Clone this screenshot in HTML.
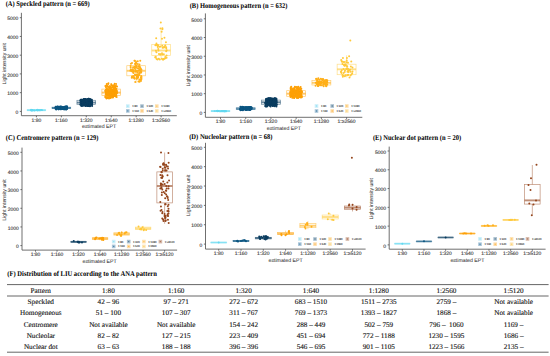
<!DOCTYPE html>
<html><head><meta charset="utf-8"><style>
html,body{margin:0;padding:0;background:#fff;width:550px;height:356px;overflow:hidden}
svg{display:block;text-rendering:geometricPrecision}
.ttl{font-family:"Liberation Serif",serif;font-weight:bold;font-size:7.4px;fill:#000}
.ft{font-family:"Liberation Serif",serif;font-weight:bold;font-size:7.4px;fill:#000}
.tb{font-family:"Liberation Serif",serif;font-size:7.2px;fill:#111;stroke:#111;stroke-width:0.12px}
.tk{font-family:"Liberation Sans",sans-serif;font-size:5.0px;fill:#333;stroke:#333;stroke-width:0.1px}
.axt{font-family:"Liberation Sans",sans-serif;font-size:5.2px;fill:#333;stroke:#333;stroke-width:0.04px}
.lg{font-family:"Liberation Sans",sans-serif;font-size:2.7px;fill:#333;stroke:#333;stroke-width:0.08px}
.ax{stroke:#555;stroke-width:0.85}
</style></head><body>
<svg width="550" height="356" viewBox="0 0 550 356">
<rect width="550" height="356" fill="#fff"/>
<text x="5.7" y="6.2" class="ttl" textLength="84.1" lengthAdjust="spacingAndGlyphs">(A) Speckled pattern (n = 669)</text>
<text class="axt" transform="translate(5.6,63.7) rotate(-90)" text-anchor="middle">Light intensity unit</text>
<line x1="19.8" y1="111.4" x2="21.4" y2="111.4" class="ax"/>
<text x="18.3" y="114.1" class="tk" text-anchor="end">0</text>
<line x1="19.8" y1="92.66" x2="21.4" y2="92.66" class="ax"/>
<text x="18.3" y="95.36" class="tk" text-anchor="end">1000</text>
<line x1="19.8" y1="73.92" x2="21.4" y2="73.92" class="ax"/>
<text x="18.3" y="76.62" class="tk" text-anchor="end">2000</text>
<line x1="19.8" y1="55.18" x2="21.4" y2="55.18" class="ax"/>
<text x="18.3" y="57.88" class="tk" text-anchor="end">3000</text>
<line x1="19.8" y1="36.44" x2="21.4" y2="36.44" class="ax"/>
<text x="18.3" y="39.14" class="tk" text-anchor="end">4000</text>
<line x1="19.8" y1="17.7" x2="21.4" y2="17.7" class="ax"/>
<text x="18.3" y="20.4" class="tk" text-anchor="end">5000</text>
<line x1="36.4" y1="115.7" x2="36.4" y2="117.3" class="ax"/>
<text x="36.4" y="121.7" class="tk" text-anchor="middle">1:80</text>
<line x1="61.34" y1="115.7" x2="61.34" y2="117.3" class="ax"/>
<text x="61.34" y="121.7" class="tk" text-anchor="middle">1:160</text>
<line x1="86.28" y1="115.7" x2="86.28" y2="117.3" class="ax"/>
<text x="86.28" y="121.7" class="tk" text-anchor="middle">1:320</text>
<line x1="111.22" y1="115.7" x2="111.22" y2="117.3" class="ax"/>
<text x="111.22" y="121.7" class="tk" text-anchor="middle">1:640</text>
<line x1="136.16" y1="115.7" x2="136.16" y2="117.3" class="ax"/>
<text x="136.16" y="121.7" class="tk" text-anchor="middle">1:1280</text>
<line x1="161.1" y1="115.7" x2="161.1" y2="117.3" class="ax"/>
<text x="161.1" y="121.7" class="tk" text-anchor="middle">1:≥2560</text>
<text x="99.1" y="128.2" class="axt" text-anchor="middle">estimated EPT</text>
<g stroke="#62d8f0" stroke-width="0.7" fill="none" stroke-opacity="0.6">
<line x1="36.4" y1="109.6" x2="36.4" y2="109.9"/>
<line x1="36.4" y1="110.37" x2="36.4" y2="110.61"/>
<rect x="27.05" y="109.9" width="18.71" height="0.47"/>
<line x1="27.05" y1="110.18" x2="45.75" y2="110.18" stroke-width="1.9"/>
</g>
<g fill="#62d8f0">
<circle cx="38.17" cy="110.27" r="0.85"/>
<circle cx="31.39" cy="110" r="0.85"/>
<circle cx="31.22" cy="110.5" r="0.85"/>
<circle cx="36.49" cy="110.26" r="0.85"/>
<circle cx="31.36" cy="109.82" r="0.85"/>
<circle cx="31.6" cy="110.1" r="0.85"/>
<circle cx="31.99" cy="109.89" r="0.85"/>
<circle cx="41.65" cy="110.1" r="0.85"/>
<circle cx="37.3" cy="109.7" r="0.85"/>
<circle cx="31.09" cy="109.61" r="0.85"/>
<circle cx="32.23" cy="110" r="0.85"/>
<circle cx="31.92" cy="110.4" r="0.85"/>
<circle cx="32.66" cy="110.41" r="0.85"/>
<circle cx="34.9" cy="110.42" r="0.85"/>
<circle cx="31.24" cy="110.3" r="0.85"/>
<circle cx="32.95" cy="110.22" r="0.85"/>
<circle cx="34.22" cy="110.34" r="0.85"/>
<circle cx="37.4" cy="110.51" r="0.85"/>
<circle cx="39.85" cy="110.46" r="0.85"/>
<circle cx="38.73" cy="110.1" r="0.85"/>
<circle cx="36.7" cy="110.17" r="0.85"/>
<circle cx="40.8" cy="109.73" r="0.85"/>
<circle cx="42.03" cy="110.22" r="0.85"/>
<circle cx="31.92" cy="110.47" r="0.85"/>
<circle cx="32.32" cy="109.89" r="0.85"/>
<circle cx="38.37" cy="110.28" r="0.85"/>
<circle cx="39.5" cy="110.18" r="0.85"/>
<circle cx="34.22" cy="110.5" r="0.85"/>
<circle cx="37.34" cy="110.34" r="0.85"/>
<circle cx="41.61" cy="110" r="0.85"/>
</g>
<g stroke="#0b5580" stroke-width="0.7" fill="none" stroke-opacity="0.6">
<line x1="61.34" y1="106.32" x2="61.34" y2="107.18"/>
<line x1="61.34" y1="108.59" x2="61.34" y2="109.58"/>
<rect x="51.99" y="107.18" width="18.71" height="1.41"/>
<line x1="51.99" y1="107.93" x2="70.69" y2="107.93" stroke-width="1.9"/>
</g>
<g fill="#0b5580">
<circle cx="56.19" cy="109.45" r="1.0"/>
<circle cx="63.7" cy="107.68" r="1.0"/>
<circle cx="60" cy="107.56" r="1.0"/>
<circle cx="63.32" cy="108.7" r="1.0"/>
<circle cx="57.45" cy="106.79" r="1.0"/>
<circle cx="56.85" cy="107.77" r="1.0"/>
<circle cx="57" cy="107.29" r="1.0"/>
<circle cx="65.69" cy="107.92" r="1.0"/>
<circle cx="56.42" cy="106.9" r="1.0"/>
<circle cx="65.83" cy="109.18" r="1.0"/>
<circle cx="65.08" cy="107.52" r="1.0"/>
<circle cx="60.35" cy="107.38" r="1.0"/>
<circle cx="59.68" cy="108.57" r="1.0"/>
<circle cx="58.2" cy="107.56" r="1.0"/>
<circle cx="58.21" cy="107.41" r="1.0"/>
<circle cx="58.56" cy="109.32" r="1.0"/>
<circle cx="55.53" cy="107.8" r="1.0"/>
<circle cx="62.12" cy="108.81" r="1.0"/>
<circle cx="66.65" cy="107.45" r="1.0"/>
<circle cx="62.72" cy="108.39" r="1.0"/>
<circle cx="63.41" cy="109.1" r="1.0"/>
<circle cx="64.62" cy="107.19" r="1.0"/>
<circle cx="60.08" cy="106.62" r="1.0"/>
<circle cx="60.16" cy="109.25" r="1.0"/>
<circle cx="56.21" cy="106.76" r="1.0"/>
<circle cx="56.27" cy="107.04" r="1.0"/>
<circle cx="59.47" cy="107.77" r="1.0"/>
<circle cx="56.1" cy="107.33" r="1.0"/>
<circle cx="56.67" cy="107.34" r="1.0"/>
<circle cx="59.74" cy="107.93" r="1.0"/>
<circle cx="62.68" cy="107.59" r="1.0"/>
<circle cx="59.55" cy="107.46" r="1.0"/>
<circle cx="59.75" cy="107.3" r="1.0"/>
<circle cx="67.12" cy="106.48" r="1.0"/>
<circle cx="60.94" cy="106.52" r="1.0"/>
<circle cx="56.68" cy="108.37" r="1.0"/>
<circle cx="59.5" cy="107.89" r="1.0"/>
<circle cx="57.37" cy="108.11" r="1.0"/>
<circle cx="61.67" cy="107.56" r="1.0"/>
<circle cx="55.8" cy="107.14" r="1.0"/>
<circle cx="61.67" cy="106.9" r="1.0"/>
<circle cx="63.64" cy="108.21" r="1.0"/>
<circle cx="57.44" cy="108" r="1.0"/>
<circle cx="64.53" cy="106.94" r="1.0"/>
<circle cx="59.34" cy="108.3" r="1.0"/>
<circle cx="67.02" cy="107.61" r="1.0"/>
<circle cx="65.07" cy="106.8" r="1.0"/>
<circle cx="64.15" cy="109.44" r="1.0"/>
<circle cx="59.65" cy="107.75" r="1.0"/>
<circle cx="55.82" cy="106.69" r="1.0"/>
<circle cx="58.52" cy="107.1" r="1.0"/>
<circle cx="63.6" cy="107.79" r="1.0"/>
<circle cx="66.46" cy="106.84" r="1.0"/>
<circle cx="67.06" cy="108.24" r="1.0"/>
<circle cx="58.06" cy="106.98" r="1.0"/>
<circle cx="58.14" cy="108.21" r="1.0"/>
<circle cx="62.79" cy="107.7" r="1.0"/>
<circle cx="66.03" cy="107.27" r="1.0"/>
<circle cx="63.13" cy="107.29" r="1.0"/>
<circle cx="64.85" cy="108.94" r="1.0"/>
<circle cx="66.14" cy="106.61" r="1.0"/>
<circle cx="64.65" cy="107.16" r="1.0"/>
<circle cx="57.57" cy="107.93" r="1.0"/>
<circle cx="64.73" cy="109.12" r="1.0"/>
<circle cx="66.87" cy="108.86" r="1.0"/>
<circle cx="66.58" cy="108.77" r="1.0"/>
<circle cx="63.98" cy="107.29" r="1.0"/>
<circle cx="57.25" cy="107.67" r="1.0"/>
<circle cx="66.09" cy="107.46" r="1.0"/>
<circle cx="65.17" cy="107.73" r="1.0"/>
<circle cx="66.97" cy="108.48" r="1.0"/>
<circle cx="61.91" cy="108.47" r="1.0"/>
<circle cx="57.01" cy="108.74" r="1.0"/>
<circle cx="63.09" cy="107.69" r="1.0"/>
<circle cx="60.56" cy="108.34" r="1.0"/>
<circle cx="57.95" cy="106.58" r="1.0"/>
<circle cx="58.43" cy="109.34" r="1.0"/>
<circle cx="62.35" cy="108.14" r="1.0"/>
<circle cx="58.52" cy="107.19" r="1.0"/>
<circle cx="66.15" cy="108.42" r="1.0"/>
<circle cx="59.63" cy="107.66" r="1.0"/>
<circle cx="66.08" cy="109.26" r="1.0"/>
<circle cx="60.41" cy="107.58" r="1.0"/>
<circle cx="61.71" cy="106.86" r="1.0"/>
<circle cx="61.62" cy="108.54" r="1.0"/>
<circle cx="57.63" cy="106.82" r="1.0"/>
<circle cx="55.53" cy="107.8" r="1.0"/>
<circle cx="61.03" cy="107.74" r="1.0"/>
<circle cx="63.98" cy="108.54" r="1.0"/>
<circle cx="61.56" cy="108.8" r="1.0"/>
<circle cx="61.99" cy="108.25" r="1.0"/>
<circle cx="62.05" cy="107.83" r="1.0"/>
<circle cx="58.39" cy="108.41" r="1.0"/>
<circle cx="61.43" cy="108.23" r="1.0"/>
<circle cx="66.18" cy="109.56" r="1.0"/>
<circle cx="60.67" cy="108.6" r="1.0"/>
<circle cx="61.48" cy="108.87" r="1.0"/>
<circle cx="63.6" cy="108.74" r="1.0"/>
<circle cx="61.08" cy="109.16" r="1.0"/>
<circle cx="66.52" cy="107.55" r="1.0"/>
<circle cx="66.52" cy="108.6" r="1.0"/>
<circle cx="66.54" cy="108.01" r="1.0"/>
<circle cx="65.33" cy="106.6" r="1.0"/>
<circle cx="60.66" cy="107.59" r="1.0"/>
<circle cx="56.33" cy="107.53" r="1.0"/>
<circle cx="63.33" cy="107.91" r="1.0"/>
<circle cx="64.67" cy="107.53" r="1.0"/>
<circle cx="63.87" cy="107.45" r="1.0"/>
<circle cx="63.22" cy="108.3" r="1.0"/>
<circle cx="66.82" cy="106.59" r="1.0"/>
<circle cx="60.15" cy="107.44" r="1.0"/>
<circle cx="65.24" cy="107.68" r="1.0"/>
<circle cx="61.52" cy="107.35" r="1.0"/>
<circle cx="59.45" cy="106.99" r="1.0"/>
<circle cx="63.94" cy="107.63" r="1.0"/>
<circle cx="55.71" cy="107.07" r="1.0"/>
<circle cx="55.69" cy="108.99" r="1.0"/>
<circle cx="59.36" cy="108.31" r="1.0"/>
<circle cx="56.23" cy="108.82" r="1.0"/>
<circle cx="67.03" cy="108.81" r="1.0"/>
<circle cx="56.71" cy="107.27" r="1.0"/>
<circle cx="64.61" cy="107.96" r="1.0"/>
<circle cx="58.65" cy="107.64" r="1.0"/>
<circle cx="66.16" cy="107.18" r="1.0"/>
<circle cx="65.08" cy="107.14" r="1.0"/>
<circle cx="66.25" cy="107.97" r="1.0"/>
<circle cx="62.17" cy="107.34" r="1.0"/>
<circle cx="56.15" cy="108.07" r="1.0"/>
<circle cx="63.55" cy="108.36" r="1.0"/>
<circle cx="66.48" cy="108.29" r="1.0"/>
<circle cx="62.92" cy="107.75" r="1.0"/>
<circle cx="65.52" cy="107.79" r="1.0"/>
<circle cx="56.26" cy="108.35" r="1.0"/>
<circle cx="59.45" cy="107.19" r="1.0"/>
<circle cx="61.96" cy="108.8" r="1.0"/>
<circle cx="56.99" cy="107.2" r="1.0"/>
<circle cx="61.66" cy="108.3" r="1.0"/>
<circle cx="57.37" cy="107.9" r="1.0"/>
<circle cx="56.07" cy="107.43" r="1.0"/>
<circle cx="59.05" cy="107.66" r="1.0"/>
</g>
<g stroke="#0a3c5f" stroke-width="0.7" fill="none" stroke-opacity="0.6">
<line x1="86.28" y1="98.81" x2="86.28" y2="100.31"/>
<line x1="86.28" y1="104.6" x2="86.28" y2="106.3"/>
<rect x="76.93" y="100.31" width="18.71" height="4.29"/>
<line x1="76.93" y1="102.59" x2="95.63" y2="102.59" stroke-width="1.9"/>
</g>
<g fill="#0a3c5f">
<circle cx="89.32" cy="99.97" r="1.0"/>
<circle cx="82.5" cy="103.52" r="1.0"/>
<circle cx="84.49" cy="98.97" r="1.0"/>
<circle cx="80.6" cy="100.19" r="1.0"/>
<circle cx="89.01" cy="102.32" r="1.0"/>
<circle cx="85.98" cy="104.55" r="1.0"/>
<circle cx="91.37" cy="103.24" r="1.0"/>
<circle cx="85.48" cy="98.95" r="1.0"/>
<circle cx="85.03" cy="102.4" r="1.0"/>
<circle cx="91.94" cy="102.8" r="1.0"/>
<circle cx="88.7" cy="105.9" r="1.0"/>
<circle cx="84.49" cy="104.72" r="1.0"/>
<circle cx="81.06" cy="105.03" r="1.0"/>
<circle cx="89.1" cy="101.76" r="1.0"/>
<circle cx="83.42" cy="101.71" r="1.0"/>
<circle cx="90.28" cy="101.9" r="1.0"/>
<circle cx="90.62" cy="101.45" r="1.0"/>
<circle cx="83.26" cy="103.83" r="1.0"/>
<circle cx="83.85" cy="104.86" r="1.0"/>
<circle cx="85.64" cy="104.39" r="1.0"/>
<circle cx="83.5" cy="102.12" r="1.0"/>
<circle cx="86.83" cy="104.62" r="1.0"/>
<circle cx="84.05" cy="102.3" r="1.0"/>
<circle cx="84.89" cy="102.68" r="1.0"/>
<circle cx="85.98" cy="102.48" r="1.0"/>
<circle cx="86.34" cy="104.72" r="1.0"/>
<circle cx="80.48" cy="102.63" r="1.0"/>
<circle cx="85.1" cy="102.71" r="1.0"/>
<circle cx="80.91" cy="101.22" r="1.0"/>
<circle cx="83.15" cy="99.91" r="1.0"/>
<circle cx="87.28" cy="102.21" r="1.0"/>
<circle cx="88.13" cy="103.56" r="1.0"/>
<circle cx="84.98" cy="103.98" r="1.0"/>
<circle cx="87.96" cy="99.58" r="1.0"/>
<circle cx="90.87" cy="100.95" r="1.0"/>
<circle cx="89.94" cy="106.2" r="1.0"/>
<circle cx="86.33" cy="100.11" r="1.0"/>
<circle cx="90.21" cy="99.62" r="1.0"/>
<circle cx="87.27" cy="100.59" r="1.0"/>
<circle cx="88.55" cy="98.83" r="1.0"/>
<circle cx="83.11" cy="105.6" r="1.0"/>
<circle cx="84.65" cy="100.93" r="1.0"/>
<circle cx="81.65" cy="102.26" r="1.0"/>
<circle cx="87.78" cy="100.5" r="1.0"/>
<circle cx="87.76" cy="106.08" r="1.0"/>
<circle cx="80.46" cy="104.15" r="1.0"/>
<circle cx="89.77" cy="105.93" r="1.0"/>
<circle cx="86.69" cy="102.63" r="1.0"/>
<circle cx="89.06" cy="103.23" r="1.0"/>
<circle cx="83.38" cy="103.58" r="1.0"/>
<circle cx="88.97" cy="100.36" r="1.0"/>
<circle cx="82.82" cy="101.47" r="1.0"/>
<circle cx="86.21" cy="103.15" r="1.0"/>
<circle cx="88.43" cy="105.28" r="1.0"/>
<circle cx="89.41" cy="100.15" r="1.0"/>
<circle cx="81.33" cy="105.98" r="1.0"/>
<circle cx="82.15" cy="105.65" r="1.0"/>
<circle cx="83.99" cy="102.72" r="1.0"/>
<circle cx="81.13" cy="103.05" r="1.0"/>
<circle cx="83.57" cy="102.8" r="1.0"/>
<circle cx="88.34" cy="104.89" r="1.0"/>
<circle cx="85.87" cy="103.57" r="1.0"/>
<circle cx="85.89" cy="98.89" r="1.0"/>
<circle cx="91.39" cy="99.84" r="1.0"/>
<circle cx="90.03" cy="99.09" r="1.0"/>
<circle cx="91.77" cy="102.21" r="1.0"/>
<circle cx="82.88" cy="104.98" r="1.0"/>
<circle cx="91.5" cy="101.81" r="1.0"/>
<circle cx="82.08" cy="101.57" r="1.0"/>
<circle cx="81.97" cy="103.78" r="1.0"/>
<circle cx="90.81" cy="100.97" r="1.0"/>
<circle cx="88.66" cy="106.02" r="1.0"/>
<circle cx="86.12" cy="101.8" r="1.0"/>
<circle cx="86.18" cy="102.33" r="1.0"/>
<circle cx="85.7" cy="102.55" r="1.0"/>
<circle cx="84.45" cy="103.15" r="1.0"/>
<circle cx="84.12" cy="100.93" r="1.0"/>
<circle cx="89.22" cy="102.49" r="1.0"/>
<circle cx="90.25" cy="102.75" r="1.0"/>
<circle cx="83.82" cy="104.17" r="1.0"/>
<circle cx="92.13" cy="104.8" r="1.0"/>
<circle cx="87.33" cy="100.31" r="1.0"/>
<circle cx="83.64" cy="104.75" r="1.0"/>
<circle cx="80.98" cy="100.01" r="1.0"/>
<circle cx="83.77" cy="98.99" r="1.0"/>
<circle cx="83.53" cy="100.38" r="1.0"/>
<circle cx="86.41" cy="103.54" r="1.0"/>
<circle cx="91.63" cy="101.46" r="1.0"/>
<circle cx="90.78" cy="99.74" r="1.0"/>
<circle cx="91.13" cy="100.89" r="1.0"/>
<circle cx="88.85" cy="98.85" r="1.0"/>
<circle cx="81" cy="104.05" r="1.0"/>
<circle cx="89.24" cy="102.98" r="1.0"/>
<circle cx="87.97" cy="106.05" r="1.0"/>
<circle cx="91.28" cy="102.82" r="1.0"/>
<circle cx="81.91" cy="101.61" r="1.0"/>
<circle cx="83.91" cy="105.46" r="1.0"/>
<circle cx="89.08" cy="102.08" r="1.0"/>
<circle cx="88.11" cy="100.15" r="1.0"/>
<circle cx="83.95" cy="102.96" r="1.0"/>
<circle cx="82.38" cy="105.57" r="1.0"/>
<circle cx="82.31" cy="103.71" r="1.0"/>
<circle cx="86.25" cy="100.78" r="1.0"/>
<circle cx="92.1" cy="101.3" r="1.0"/>
<circle cx="82.67" cy="104.25" r="1.0"/>
<circle cx="81.48" cy="102.05" r="1.0"/>
<circle cx="83.22" cy="103.35" r="1.0"/>
<circle cx="83.45" cy="101.43" r="1.0"/>
<circle cx="89.21" cy="105.41" r="1.0"/>
<circle cx="86.56" cy="105.4" r="1.0"/>
<circle cx="84.84" cy="100.88" r="1.0"/>
<circle cx="83.67" cy="103.19" r="1.0"/>
<circle cx="91.76" cy="101.62" r="1.0"/>
<circle cx="87.8" cy="99.95" r="1.0"/>
<circle cx="90.53" cy="99.92" r="1.0"/>
<circle cx="83.33" cy="102.06" r="1.0"/>
<circle cx="85.1" cy="100.12" r="1.0"/>
<circle cx="90.37" cy="99.96" r="1.0"/>
<circle cx="80.8" cy="102.13" r="1.0"/>
<circle cx="88.74" cy="103.07" r="1.0"/>
<circle cx="87.3" cy="99.74" r="1.0"/>
<circle cx="80.42" cy="104.79" r="1.0"/>
<circle cx="91.82" cy="99.73" r="1.0"/>
<circle cx="82.23" cy="102.58" r="1.0"/>
<circle cx="86.54" cy="101.06" r="1.0"/>
<circle cx="88.88" cy="105.73" r="1.0"/>
<circle cx="85.78" cy="105.84" r="1.0"/>
<circle cx="89.59" cy="103.45" r="1.0"/>
<circle cx="83.15" cy="102.88" r="1.0"/>
<circle cx="83.98" cy="104.8" r="1.0"/>
<circle cx="87.88" cy="100.91" r="1.0"/>
<circle cx="88.61" cy="100.85" r="1.0"/>
<circle cx="86.57" cy="101.67" r="1.0"/>
<circle cx="87.25" cy="101.81" r="1.0"/>
<circle cx="87.46" cy="104.32" r="1.0"/>
<circle cx="80.54" cy="101.13" r="1.0"/>
<circle cx="91.66" cy="103.72" r="1.0"/>
<circle cx="87.97" cy="99.24" r="1.0"/>
<circle cx="83.17" cy="99.9" r="1.0"/>
<circle cx="83.32" cy="105" r="1.0"/>
<circle cx="84.02" cy="103.81" r="1.0"/>
<circle cx="88.33" cy="98.89" r="1.0"/>
<circle cx="85.34" cy="102.08" r="1.0"/>
<circle cx="91.26" cy="102.81" r="1.0"/>
<circle cx="84.38" cy="102.47" r="1.0"/>
<circle cx="85.35" cy="101.76" r="1.0"/>
<circle cx="89.76" cy="103.46" r="1.0"/>
<circle cx="89.08" cy="104.52" r="1.0"/>
<circle cx="91.79" cy="104.75" r="1.0"/>
<circle cx="84.07" cy="102.66" r="1.0"/>
<circle cx="83.01" cy="101.61" r="1.0"/>
<circle cx="89.33" cy="104.68" r="1.0"/>
<circle cx="86.23" cy="104.77" r="1.0"/>
<circle cx="85.31" cy="101.72" r="1.0"/>
<circle cx="88.22" cy="100.51" r="1.0"/>
<circle cx="85.03" cy="100.9" r="1.0"/>
<circle cx="82.92" cy="103.16" r="1.0"/>
<circle cx="81.03" cy="100.86" r="1.0"/>
<circle cx="81.12" cy="102.88" r="1.0"/>
<circle cx="92.11" cy="106.04" r="1.0"/>
<circle cx="82.59" cy="100.01" r="1.0"/>
<circle cx="91.39" cy="103.78" r="1.0"/>
<circle cx="88.21" cy="102.61" r="1.0"/>
<circle cx="84.86" cy="103.4" r="1.0"/>
<circle cx="82.4" cy="104.6" r="1.0"/>
<circle cx="80.45" cy="100.56" r="1.0"/>
<circle cx="91.62" cy="103.14" r="1.0"/>
<circle cx="81.87" cy="99.69" r="1.0"/>
<circle cx="84.6" cy="100.48" r="1.0"/>
<circle cx="90.05" cy="103.07" r="1.0"/>
<circle cx="81" cy="101.11" r="1.0"/>
<circle cx="85.97" cy="105.64" r="1.0"/>
<circle cx="90.93" cy="101.53" r="1.0"/>
<circle cx="80.77" cy="99.76" r="1.0"/>
<circle cx="89.41" cy="99.5" r="1.0"/>
<circle cx="81.15" cy="101.77" r="1.0"/>
<circle cx="91.2" cy="102.38" r="1.0"/>
<circle cx="90.95" cy="102.82" r="1.0"/>
<circle cx="91.64" cy="103.94" r="1.0"/>
<circle cx="87.65" cy="100.44" r="1.0"/>
<circle cx="84.13" cy="102.98" r="1.0"/>
<circle cx="89.28" cy="102.64" r="1.0"/>
<circle cx="91.16" cy="102.32" r="1.0"/>
<circle cx="85.99" cy="100.3" r="1.0"/>
<circle cx="91.63" cy="102.24" r="1.0"/>
<circle cx="83.36" cy="99.58" r="1.0"/>
<circle cx="85.46" cy="103.49" r="1.0"/>
<circle cx="82.56" cy="102.29" r="1.0"/>
<circle cx="90.06" cy="100.9" r="1.0"/>
<circle cx="84.26" cy="101.97" r="1.0"/>
<circle cx="89.59" cy="103.87" r="1.0"/>
<circle cx="81.35" cy="99.86" r="1.0"/>
<circle cx="83.32" cy="100.86" r="1.0"/>
<circle cx="86.9" cy="101.83" r="1.0"/>
<circle cx="84.24" cy="102.26" r="1.0"/>
<circle cx="92" cy="103.41" r="1.0"/>
<circle cx="81.55" cy="102.72" r="1.0"/>
<circle cx="86.26" cy="101.27" r="1.0"/>
<circle cx="83.16" cy="103.46" r="1.0"/>
<circle cx="85.31" cy="105.94" r="1.0"/>
<circle cx="89.19" cy="106.06" r="1.0"/>
<circle cx="90.35" cy="105.86" r="1.0"/>
<circle cx="90.28" cy="103.42" r="1.0"/>
<circle cx="83.86" cy="103.98" r="1.0"/>
<circle cx="89.07" cy="105.4" r="1.0"/>
<circle cx="82.75" cy="103.85" r="1.0"/>
<circle cx="82.22" cy="102.55" r="1.0"/>
<circle cx="90.78" cy="100.21" r="1.0"/>
<circle cx="85.06" cy="105.08" r="1.0"/>
<circle cx="92.05" cy="103.93" r="1.0"/>
<circle cx="89.9" cy="104.9" r="1.0"/>
<circle cx="88.08" cy="102.7" r="1.0"/>
<circle cx="85.98" cy="101.12" r="1.0"/>
<circle cx="90.02" cy="102.68" r="1.0"/>
<circle cx="81.82" cy="100.03" r="1.0"/>
<circle cx="82.64" cy="101.93" r="1.0"/>
<circle cx="91.32" cy="103.3" r="1.0"/>
<circle cx="89.54" cy="104.93" r="1.0"/>
<circle cx="91.5" cy="101.82" r="1.0"/>
<circle cx="87.69" cy="99.22" r="1.0"/>
<circle cx="82.97" cy="99.95" r="1.0"/>
<circle cx="82.81" cy="103.78" r="1.0"/>
<circle cx="83.41" cy="101.3" r="1.0"/>
<circle cx="82.8" cy="105.29" r="1.0"/>
<circle cx="88.37" cy="99.77" r="1.0"/>
<circle cx="82.59" cy="102.39" r="1.0"/>
<circle cx="89.74" cy="103.41" r="1.0"/>
<circle cx="86.84" cy="100.61" r="1.0"/>
<circle cx="85.05" cy="101.24" r="1.0"/>
<circle cx="86.87" cy="102.02" r="1.0"/>
</g>
<g stroke="#fda006" stroke-width="0.7" fill="none" stroke-opacity="0.6">
<line x1="111.22" y1="83.1" x2="111.22" y2="89.1"/>
<line x1="111.22" y1="95.4" x2="111.22" y2="98.6"/>
<rect x="101.87" y="89.1" width="18.71" height="6.3"/>
<line x1="101.87" y1="92.6" x2="120.57" y2="92.6" stroke-width="1.9"/>
</g>
<g fill="#fda006">
<circle cx="107.28" cy="93.91" r="1.0"/>
<circle cx="113.51" cy="94.17" r="1.0"/>
<circle cx="108.96" cy="95.82" r="1.0"/>
<circle cx="116.53" cy="90.56" r="1.0"/>
<circle cx="109.55" cy="94.91" r="1.0"/>
<circle cx="110.24" cy="87.03" r="1.0"/>
<circle cx="113.89" cy="94.63" r="1.0"/>
<circle cx="107.75" cy="90.27" r="1.0"/>
<circle cx="110.33" cy="92.23" r="1.0"/>
<circle cx="115.71" cy="90.57" r="1.0"/>
<circle cx="110.76" cy="96.91" r="1.0"/>
<circle cx="111.82" cy="92.18" r="1.0"/>
<circle cx="112.87" cy="91.92" r="1.0"/>
<circle cx="112.65" cy="90.9" r="1.0"/>
<circle cx="109.71" cy="93.69" r="1.0"/>
<circle cx="108.68" cy="95.22" r="1.0"/>
<circle cx="111.47" cy="92.68" r="1.0"/>
<circle cx="111.11" cy="90.61" r="1.0"/>
<circle cx="114.79" cy="93.61" r="1.0"/>
<circle cx="106.84" cy="89.58" r="1.0"/>
<circle cx="116.41" cy="93.24" r="1.0"/>
<circle cx="105.98" cy="87.31" r="1.0"/>
<circle cx="116.22" cy="93.42" r="1.0"/>
<circle cx="112.63" cy="86.06" r="1.0"/>
<circle cx="114.57" cy="91.36" r="1.0"/>
<circle cx="107.96" cy="95.06" r="1.0"/>
<circle cx="115.08" cy="87.51" r="1.0"/>
<circle cx="110.04" cy="91.27" r="1.0"/>
<circle cx="111.43" cy="89.62" r="1.0"/>
<circle cx="108.26" cy="94.38" r="1.0"/>
<circle cx="113.86" cy="91.01" r="1.0"/>
<circle cx="111.95" cy="91.52" r="1.0"/>
<circle cx="114.24" cy="93.42" r="1.0"/>
<circle cx="106.74" cy="83.96" r="1.0"/>
<circle cx="112.39" cy="90.49" r="1.0"/>
<circle cx="108.95" cy="94.63" r="1.0"/>
<circle cx="110.35" cy="98.01" r="1.0"/>
<circle cx="113.08" cy="89.64" r="1.0"/>
<circle cx="105.63" cy="97.34" r="1.0"/>
<circle cx="112.61" cy="90.96" r="1.0"/>
<circle cx="114.31" cy="96.01" r="1.0"/>
<circle cx="114.5" cy="92.38" r="1.0"/>
<circle cx="110.91" cy="95.44" r="1.0"/>
<circle cx="106.61" cy="91.84" r="1.0"/>
<circle cx="106.43" cy="89.18" r="1.0"/>
<circle cx="110.54" cy="89.03" r="1.0"/>
<circle cx="112.82" cy="93.95" r="1.0"/>
<circle cx="106.32" cy="92.69" r="1.0"/>
<circle cx="111.35" cy="93.44" r="1.0"/>
<circle cx="109.79" cy="87.4" r="1.0"/>
<circle cx="116.5" cy="90.76" r="1.0"/>
<circle cx="117.04" cy="86.57" r="1.0"/>
<circle cx="113.94" cy="85.66" r="1.0"/>
<circle cx="116.87" cy="91.39" r="1.0"/>
<circle cx="111.12" cy="95.41" r="1.0"/>
<circle cx="107.29" cy="95.4" r="1.0"/>
<circle cx="106.13" cy="90.03" r="1.0"/>
<circle cx="107.22" cy="97.25" r="1.0"/>
<circle cx="115.87" cy="86.29" r="1.0"/>
<circle cx="107.04" cy="93.95" r="1.0"/>
<circle cx="111.25" cy="84.13" r="1.0"/>
<circle cx="108.44" cy="89.81" r="1.0"/>
<circle cx="111.29" cy="94.14" r="1.0"/>
<circle cx="107.49" cy="93.14" r="1.0"/>
<circle cx="107.25" cy="91.44" r="1.0"/>
<circle cx="115.85" cy="86.12" r="1.0"/>
<circle cx="107.34" cy="95.34" r="1.0"/>
<circle cx="111.58" cy="92.1" r="1.0"/>
<circle cx="112.82" cy="94.86" r="1.0"/>
<circle cx="111.87" cy="85.3" r="1.0"/>
<circle cx="106.59" cy="97.26" r="1.0"/>
<circle cx="109.98" cy="86.04" r="1.0"/>
<circle cx="114.71" cy="92.89" r="1.0"/>
<circle cx="112.13" cy="93.92" r="1.0"/>
<circle cx="110.54" cy="97.67" r="1.0"/>
<circle cx="107.43" cy="86.5" r="1.0"/>
<circle cx="114.97" cy="92.66" r="1.0"/>
<circle cx="108.33" cy="94.07" r="1.0"/>
<circle cx="109.02" cy="98.51" r="1.0"/>
<circle cx="105.38" cy="96.14" r="1.0"/>
<circle cx="112.58" cy="90.01" r="1.0"/>
<circle cx="110.43" cy="92.04" r="1.0"/>
<circle cx="106.91" cy="93.39" r="1.0"/>
<circle cx="105.62" cy="91.64" r="1.0"/>
<circle cx="105.39" cy="85.89" r="1.0"/>
<circle cx="109.55" cy="93.96" r="1.0"/>
<circle cx="107.99" cy="90.86" r="1.0"/>
<circle cx="107.75" cy="97.99" r="1.0"/>
<circle cx="112.67" cy="95.72" r="1.0"/>
<circle cx="116.34" cy="95.08" r="1.0"/>
<circle cx="108.21" cy="92.21" r="1.0"/>
<circle cx="112.84" cy="91.37" r="1.0"/>
<circle cx="115.57" cy="90.92" r="1.0"/>
<circle cx="108.46" cy="91.65" r="1.0"/>
<circle cx="105.49" cy="97.24" r="1.0"/>
<circle cx="109.47" cy="96.28" r="1.0"/>
<circle cx="112.93" cy="97.34" r="1.0"/>
<circle cx="113.96" cy="88.81" r="1.0"/>
<circle cx="105.87" cy="92.51" r="1.0"/>
<circle cx="108.15" cy="97.27" r="1.0"/>
<circle cx="106.04" cy="93.54" r="1.0"/>
<circle cx="111.82" cy="92.47" r="1.0"/>
<circle cx="116.39" cy="93.33" r="1.0"/>
<circle cx="112.49" cy="90.65" r="1.0"/>
<circle cx="111.3" cy="90.18" r="1.0"/>
<circle cx="107.41" cy="97.99" r="1.0"/>
<circle cx="105.93" cy="94.04" r="1.0"/>
<circle cx="115.78" cy="88.93" r="1.0"/>
<circle cx="105.43" cy="91.08" r="1.0"/>
<circle cx="110.81" cy="88.29" r="1.0"/>
<circle cx="108.01" cy="92.87" r="1.0"/>
<circle cx="106.59" cy="97.72" r="1.0"/>
<circle cx="109.29" cy="92.46" r="1.0"/>
<circle cx="114.15" cy="91.3" r="1.0"/>
<circle cx="113.7" cy="95.65" r="1.0"/>
<circle cx="110.47" cy="93.2" r="1.0"/>
<circle cx="114.6" cy="86.71" r="1.0"/>
<circle cx="112.88" cy="96.23" r="1.0"/>
<circle cx="116.67" cy="93.14" r="1.0"/>
<circle cx="105.54" cy="90.63" r="1.0"/>
<circle cx="108.41" cy="83.2" r="1.0"/>
<circle cx="116.43" cy="91.93" r="1.0"/>
<circle cx="114.11" cy="84.93" r="1.0"/>
<circle cx="109.21" cy="97.07" r="1.0"/>
<circle cx="108.16" cy="84.1" r="1.0"/>
<circle cx="113.48" cy="87.1" r="1.0"/>
<circle cx="113.16" cy="96.22" r="1.0"/>
<circle cx="115.2" cy="87.4" r="1.0"/>
<circle cx="113.54" cy="93.29" r="1.0"/>
<circle cx="113.85" cy="89.48" r="1.0"/>
<circle cx="112.04" cy="96.51" r="1.0"/>
<circle cx="112.66" cy="93.75" r="1.0"/>
<circle cx="106.27" cy="89.59" r="1.0"/>
<circle cx="105.67" cy="90.4" r="1.0"/>
<circle cx="106.61" cy="93.99" r="1.0"/>
<circle cx="107.02" cy="88.73" r="1.0"/>
<circle cx="105.7" cy="94.46" r="1.0"/>
<circle cx="112.79" cy="85.68" r="1.0"/>
<circle cx="113.53" cy="90.75" r="1.0"/>
<circle cx="112.28" cy="92.75" r="1.0"/>
<circle cx="109.62" cy="94.32" r="1.0"/>
<circle cx="115.81" cy="89.05" r="1.0"/>
<circle cx="116.08" cy="84.02" r="1.0"/>
<circle cx="116.43" cy="88.83" r="1.0"/>
<circle cx="106.67" cy="90.13" r="1.0"/>
<circle cx="105.76" cy="90.63" r="1.0"/>
<circle cx="112.79" cy="87.69" r="1.0"/>
<circle cx="108.73" cy="89.61" r="1.0"/>
<circle cx="106.53" cy="98.48" r="1.0"/>
<circle cx="107.76" cy="86.19" r="1.0"/>
<circle cx="109.1" cy="88.08" r="1.0"/>
<circle cx="108.37" cy="93.45" r="1.0"/>
<circle cx="108.67" cy="92.16" r="1.0"/>
<circle cx="109.12" cy="93.56" r="1.0"/>
<circle cx="116.66" cy="96.97" r="1.0"/>
<circle cx="112.61" cy="92.82" r="1.0"/>
<circle cx="110.48" cy="87.88" r="1.0"/>
<circle cx="114.42" cy="91.67" r="1.0"/>
<circle cx="111.66" cy="96.77" r="1.0"/>
<circle cx="107.9" cy="86.63" r="1.0"/>
<circle cx="114.97" cy="91.28" r="1.0"/>
<circle cx="107.36" cy="94.15" r="1.0"/>
<circle cx="114.29" cy="89.47" r="1.0"/>
<circle cx="116.82" cy="92.58" r="1.0"/>
<circle cx="111.12" cy="87.19" r="1.0"/>
<circle cx="114.7" cy="92.46" r="1.0"/>
<circle cx="109.43" cy="90.42" r="1.0"/>
<circle cx="115.11" cy="87.61" r="1.0"/>
<circle cx="108.68" cy="93.35" r="1.0"/>
<circle cx="111.2" cy="91.01" r="1.0"/>
<circle cx="106.65" cy="85.55" r="1.0"/>
<circle cx="114.59" cy="93.86" r="1.0"/>
<circle cx="113.53" cy="94.05" r="1.0"/>
<circle cx="109.53" cy="91.1" r="1.0"/>
<circle cx="115.8" cy="96.41" r="1.0"/>
<circle cx="106.37" cy="89.89" r="1.0"/>
<circle cx="107.78" cy="91.8" r="1.0"/>
<circle cx="108.44" cy="93.28" r="1.0"/>
<circle cx="109.81" cy="88.13" r="1.0"/>
<circle cx="115.72" cy="95.8" r="1.0"/>
<circle cx="111.59" cy="92.07" r="1.0"/>
<circle cx="114.2" cy="87.45" r="1.0"/>
<circle cx="109.44" cy="92.48" r="1.0"/>
<circle cx="115.24" cy="93.86" r="1.0"/>
<circle cx="113.12" cy="90.2" r="1.0"/>
<circle cx="110.5" cy="92.75" r="1.0"/>
<circle cx="114.43" cy="95.44" r="1.0"/>
<circle cx="110.77" cy="94.73" r="1.0"/>
<circle cx="115.73" cy="93.76" r="1.0"/>
<circle cx="108.89" cy="92.37" r="1.0"/>
<circle cx="113.6" cy="89.57" r="1.0"/>
<circle cx="107.19" cy="91.1" r="1.0"/>
<circle cx="108.26" cy="94.85" r="1.0"/>
<circle cx="107.25" cy="95.23" r="1.0"/>
<circle cx="109.2" cy="87.58" r="1.0"/>
<circle cx="113.9" cy="87.88" r="1.0"/>
<circle cx="106.55" cy="85.47" r="1.0"/>
<circle cx="114.68" cy="83.7" r="1.0"/>
<circle cx="107.66" cy="93.13" r="1.0"/>
<circle cx="112.84" cy="97.56" r="1.0"/>
</g>
<g stroke="#ffaf18" stroke-width="0.7" fill="none" stroke-opacity="0.6">
<line x1="136.16" y1="60.15" x2="136.16" y2="65.69"/>
<line x1="136.16" y1="75.79" x2="136.16" y2="83.08"/>
<rect x="126.81" y="65.69" width="18.71" height="10.1"/>
<line x1="126.81" y1="70.79" x2="145.51" y2="70.79" stroke-width="1.9"/>
</g>
<g fill="#ffaf18">
<circle cx="134.85" cy="66.81" r="1.0"/>
<circle cx="130.7" cy="67.62" r="1.0"/>
<circle cx="138.43" cy="81.45" r="1.0"/>
<circle cx="136.17" cy="62.94" r="1.0"/>
<circle cx="131.96" cy="76.41" r="1.0"/>
<circle cx="137.38" cy="76.96" r="1.0"/>
<circle cx="140.94" cy="80.95" r="1.0"/>
<circle cx="135.34" cy="63.86" r="1.0"/>
<circle cx="135.24" cy="81.91" r="1.0"/>
<circle cx="132.98" cy="76.37" r="1.0"/>
<circle cx="139.37" cy="73.47" r="1.0"/>
<circle cx="138.27" cy="75.31" r="1.0"/>
<circle cx="133.97" cy="75.97" r="1.0"/>
<circle cx="137.66" cy="77.18" r="1.0"/>
<circle cx="139.47" cy="64.42" r="1.0"/>
<circle cx="138.66" cy="66.29" r="1.0"/>
<circle cx="135.26" cy="74.69" r="1.0"/>
<circle cx="135.63" cy="74.92" r="1.0"/>
<circle cx="138.21" cy="76.34" r="1.0"/>
<circle cx="141.2" cy="76.1" r="1.0"/>
<circle cx="139.42" cy="66.34" r="1.0"/>
<circle cx="134.86" cy="60.83" r="1.0"/>
<circle cx="130.75" cy="69.5" r="1.0"/>
<circle cx="139.46" cy="75.06" r="1.0"/>
<circle cx="141.32" cy="71.98" r="1.0"/>
<circle cx="137.03" cy="74.22" r="1.0"/>
<circle cx="136.64" cy="71.21" r="1.0"/>
<circle cx="137.79" cy="72.62" r="1.0"/>
<circle cx="140.02" cy="79.57" r="1.0"/>
<circle cx="141.41" cy="78.41" r="1.0"/>
<circle cx="132.76" cy="71.84" r="1.0"/>
<circle cx="139.24" cy="73.78" r="1.0"/>
<circle cx="131.73" cy="77.63" r="1.0"/>
<circle cx="130.96" cy="63.81" r="1.0"/>
<circle cx="133.52" cy="71.47" r="1.0"/>
<circle cx="135.21" cy="71.78" r="1.0"/>
<circle cx="135.23" cy="70.07" r="1.0"/>
<circle cx="133.41" cy="73.02" r="1.0"/>
<circle cx="132.93" cy="77.4" r="1.0"/>
<circle cx="136.48" cy="71.74" r="1.0"/>
<circle cx="134.89" cy="68.18" r="1.0"/>
<circle cx="139.4" cy="69.86" r="1.0"/>
<circle cx="139.79" cy="66.96" r="1.0"/>
<circle cx="136.89" cy="76.39" r="1.0"/>
<circle cx="132.95" cy="77.08" r="1.0"/>
<circle cx="137.79" cy="63.99" r="1.0"/>
<circle cx="139.9" cy="72.36" r="1.0"/>
<circle cx="133.75" cy="67.39" r="1.0"/>
<circle cx="136.73" cy="78.48" r="1.0"/>
<circle cx="134.46" cy="60.78" r="1.0"/>
<circle cx="140.27" cy="60.76" r="1.0"/>
<circle cx="133.27" cy="71.58" r="1.0"/>
<circle cx="135.29" cy="63.57" r="1.0"/>
<circle cx="138.76" cy="70.57" r="1.0"/>
<circle cx="133.6" cy="70.28" r="1.0"/>
<circle cx="135.92" cy="70.59" r="1.0"/>
<circle cx="135.32" cy="64.45" r="1.0"/>
<circle cx="134.55" cy="77.93" r="1.0"/>
<circle cx="141.19" cy="79.13" r="1.0"/>
<circle cx="140" cy="69.23" r="1.0"/>
<circle cx="140.92" cy="72.82" r="1.0"/>
<circle cx="140.04" cy="69.92" r="1.0"/>
<circle cx="137.72" cy="74.81" r="1.0"/>
<circle cx="141.46" cy="69.66" r="1.0"/>
<circle cx="137.99" cy="70.68" r="1.0"/>
<circle cx="131.97" cy="70.79" r="1.0"/>
<circle cx="133.04" cy="67.33" r="1.0"/>
<circle cx="132.09" cy="69.66" r="1.0"/>
<circle cx="140.9" cy="77.6" r="1.0"/>
<circle cx="140.74" cy="69.62" r="1.0"/>
<circle cx="137.43" cy="75.17" r="1.0"/>
<circle cx="140.78" cy="68.62" r="1.0"/>
<circle cx="139.54" cy="81.69" r="1.0"/>
<circle cx="138.42" cy="68.16" r="1.0"/>
<circle cx="136.52" cy="75" r="1.0"/>
<circle cx="140.65" cy="71.2" r="1.0"/>
<circle cx="136.81" cy="78.82" r="1.0"/>
<circle cx="131.93" cy="71.29" r="1.0"/>
<circle cx="136.08" cy="65.35" r="1.0"/>
<circle cx="131.99" cy="62.96" r="1.0"/>
<circle cx="136.06" cy="67.78" r="1.0"/>
<circle cx="140.41" cy="80.11" r="1.0"/>
<circle cx="130.38" cy="70.68" r="1.0"/>
<circle cx="136.89" cy="66.25" r="1.0"/>
<circle cx="138.1" cy="77.87" r="1.0"/>
<circle cx="135.21" cy="66.88" r="1.0"/>
<circle cx="141.56" cy="76.9" r="1.0"/>
<circle cx="137.76" cy="61.31" r="1.0"/>
<circle cx="130.63" cy="65.93" r="1.0"/>
<circle cx="141.22" cy="79.54" r="1.0"/>
<circle cx="134.17" cy="78" r="1.0"/>
<circle cx="135.98" cy="61.9" r="1.0"/>
<circle cx="140.82" cy="71.82" r="1.0"/>
<circle cx="137.63" cy="68.27" r="1.0"/>
<circle cx="134.59" cy="78.65" r="1.0"/>
<circle cx="139.33" cy="79.81" r="1.0"/>
<circle cx="132.77" cy="69.33" r="1.0"/>
<circle cx="136.79" cy="77.99" r="1.0"/>
<circle cx="139.99" cy="67.69" r="1.0"/>
<circle cx="135.03" cy="74.53" r="1.0"/>
</g>
<g stroke="#ffc93a" stroke-width="0.7" fill="none" stroke-opacity="0.6">
<line x1="161.1" y1="29.79" x2="161.1" y2="44.59"/>
<line x1="161.1" y1="55.5" x2="161.1" y2="59.7"/>
<rect x="151.75" y="44.59" width="18.71" height="10.91"/>
<line x1="151.75" y1="50.5" x2="170.45" y2="50.5" stroke-width="1.9"/>
</g>
<g fill="#ffc93a">
<circle cx="158.42" cy="50.41" r="1.0"/>
<circle cx="166.67" cy="50.34" r="1.0"/>
<circle cx="164.52" cy="46.85" r="1.0"/>
<circle cx="158.96" cy="53.88" r="1.0"/>
<circle cx="162.11" cy="54.51" r="1.0"/>
<circle cx="164.43" cy="47.31" r="1.0"/>
<circle cx="163.71" cy="59.02" r="1.0"/>
<circle cx="161.63" cy="31.63" r="1.0"/>
<circle cx="158.76" cy="58.86" r="1.0"/>
<circle cx="157.47" cy="59.59" r="1.0"/>
<circle cx="162.37" cy="28.21" r="1.0"/>
<circle cx="164.49" cy="46.76" r="1.0"/>
<circle cx="162.41" cy="29.32" r="1.0"/>
<circle cx="162.59" cy="47.74" r="1.0"/>
<circle cx="162.23" cy="45.86" r="1.0"/>
<circle cx="157.73" cy="46.22" r="1.0"/>
<circle cx="160.61" cy="46.55" r="1.0"/>
<circle cx="156.43" cy="43.38" r="1.0"/>
<circle cx="155.67" cy="56.65" r="1.0"/>
<circle cx="165.95" cy="42.25" r="1.0"/>
<circle cx="159.56" cy="46.82" r="1.0"/>
<circle cx="164.46" cy="37.65" r="1.0"/>
<circle cx="158.26" cy="49.03" r="1.0"/>
<circle cx="160.18" cy="54.46" r="1.0"/>
<circle cx="160.29" cy="54.13" r="1.0"/>
<circle cx="166.19" cy="47.15" r="1.0"/>
<circle cx="161.89" cy="58.78" r="1.0"/>
<circle cx="156.63" cy="59.04" r="1.0"/>
<circle cx="161.98" cy="38.83" r="1.0"/>
<circle cx="160.47" cy="28.48" r="1.0"/>
<circle cx="159.78" cy="59.46" r="1.0"/>
<circle cx="166.23" cy="48.32" r="1.0"/>
<circle cx="160.81" cy="22.53" r="1.0"/>
<circle cx="156.44" cy="52.25" r="1.0"/>
<circle cx="157.73" cy="47.08" r="1.0"/>
<circle cx="155.42" cy="57.15" r="1.0"/>
<circle cx="163.25" cy="59.62" r="1.0"/>
<circle cx="166.57" cy="57.65" r="1.0"/>
<circle cx="165.43" cy="58.22" r="1.0"/>
<circle cx="155.45" cy="57.53" r="1.0"/>
<circle cx="158.08" cy="45.32" r="1.0"/>
<circle cx="157.44" cy="44.98" r="1.0"/>
<circle cx="164.31" cy="58.85" r="1.0"/>
<circle cx="165.27" cy="45.45" r="1.0"/>
<circle cx="156.23" cy="45.07" r="1.0"/>
<circle cx="163.55" cy="47.46" r="1.0"/>
<circle cx="166.17" cy="51.28" r="1.0"/>
<circle cx="166.54" cy="55.42" r="1.0"/>
<circle cx="155.37" cy="45.37" r="1.0"/>
<circle cx="162.87" cy="59.45" r="1.0"/>
<circle cx="156.17" cy="38.16" r="1.0"/>
<circle cx="163.79" cy="54.28" r="1.0"/>
<circle cx="165.33" cy="56.91" r="1.0"/>
<circle cx="155.94" cy="50.77" r="1.0"/>
<circle cx="161.98" cy="53.15" r="1.0"/>
</g>
<path d="M21.4 12.8 V115.7 H176.8" class="ax" fill="none"/>
<rect x="126" y="104.3" width="3.6" height="3.6" fill="#a9e3f5" opacity="0.6"/>
<circle cx="127.8" cy="106.1" r="0.7" fill="#62d8f0" opacity="0.6"/>
<text x="132.2" y="107" class="lg">1:80</text>
<rect x="126" y="109.1" width="3.6" height="3.6" fill="#6f9fc0" opacity="0.6"/>
<circle cx="127.8" cy="110.9" r="0.7" fill="#0b5580" opacity="0.6"/>
<text x="132.2" y="111.8" class="lg">1:160</text>
<rect x="140.2" y="104.3" width="3.6" height="3.6" fill="#6f94ad" opacity="0.6"/>
<circle cx="142" cy="106.1" r="0.7" fill="#0a3c5f" opacity="0.6"/>
<text x="146.4" y="107" class="lg">1:320</text>
<rect x="140.2" y="109.1" width="3.6" height="3.6" fill="#fbc472" opacity="0.6"/>
<circle cx="142" cy="110.9" r="0.7" fill="#fda006" opacity="0.6"/>
<text x="146.4" y="111.8" class="lg">1:640</text>
<rect x="155" y="104.3" width="3.6" height="3.6" fill="#fbcb7a" opacity="0.6"/>
<circle cx="156.8" cy="106.1" r="0.7" fill="#ffaf18" opacity="0.6"/>
<text x="161.2" y="107" class="lg">1:1280</text>
<rect x="155" y="109.1" width="3.6" height="3.6" fill="#fcd68a" opacity="0.6"/>
<circle cx="156.8" cy="110.9" r="0.7" fill="#ffc93a" opacity="0.6"/>
<text x="161.2" y="111.8" class="lg">1:≥2560</text>
<text x="189.7" y="7.8" class="ttl" textLength="97.7" lengthAdjust="spacingAndGlyphs">(B) Homogeneous pattern (n = 632)</text>
<text class="axt" transform="translate(189.6,65.8) rotate(-90)" text-anchor="middle">Light intensity unit</text>
<line x1="203.8" y1="112.4" x2="205.4" y2="112.4" class="ax"/>
<text x="202.3" y="115.1" class="tk" text-anchor="end">0</text>
<line x1="203.8" y1="93.68" x2="205.4" y2="93.68" class="ax"/>
<text x="202.3" y="96.38" class="tk" text-anchor="end">1000</text>
<line x1="203.8" y1="74.96" x2="205.4" y2="74.96" class="ax"/>
<text x="202.3" y="77.66" class="tk" text-anchor="end">2000</text>
<line x1="203.8" y1="56.24" x2="205.4" y2="56.24" class="ax"/>
<text x="202.3" y="58.94" class="tk" text-anchor="end">3000</text>
<line x1="203.8" y1="37.52" x2="205.4" y2="37.52" class="ax"/>
<text x="202.3" y="40.22" class="tk" text-anchor="end">4000</text>
<line x1="203.8" y1="18.8" x2="205.4" y2="18.8" class="ax"/>
<text x="202.3" y="21.5" class="tk" text-anchor="end">5000</text>
<line x1="220.5" y1="117.3" x2="220.5" y2="118.9" class="ax"/>
<text x="220.5" y="123.3" class="tk" text-anchor="middle">1:80</text>
<line x1="245.72" y1="117.3" x2="245.72" y2="118.9" class="ax"/>
<text x="245.72" y="123.3" class="tk" text-anchor="middle">1:160</text>
<line x1="270.94" y1="117.3" x2="270.94" y2="118.9" class="ax"/>
<text x="270.94" y="123.3" class="tk" text-anchor="middle">1:320</text>
<line x1="296.16" y1="117.3" x2="296.16" y2="118.9" class="ax"/>
<text x="296.16" y="123.3" class="tk" text-anchor="middle">1:640</text>
<line x1="321.38" y1="117.3" x2="321.38" y2="118.9" class="ax"/>
<text x="321.38" y="123.3" class="tk" text-anchor="middle">1:1280</text>
<line x1="346.6" y1="117.3" x2="346.6" y2="118.9" class="ax"/>
<text x="346.6" y="123.3" class="tk" text-anchor="middle">1:≥2560</text>
<text x="283.85" y="129.8" class="axt" text-anchor="middle">estimated EPT</text>
<g stroke="#62d8f0" stroke-width="0.7" fill="none" stroke-opacity="0.6">
<line x1="220.5" y1="110.53" x2="220.5" y2="110.81"/>
<line x1="220.5" y1="111.28" x2="220.5" y2="111.45"/>
<rect x="211.04" y="110.81" width="18.91" height="0.47"/>
<line x1="211.04" y1="111.09" x2="229.96" y2="111.09" stroke-width="1.9"/>
</g>
<g fill="#62d8f0">
<circle cx="216.29" cy="110.89" r="0.85"/>
<circle cx="222.22" cy="110.99" r="0.85"/>
<circle cx="222.04" cy="111.4" r="0.85"/>
<circle cx="223.89" cy="111.39" r="0.85"/>
<circle cx="225.77" cy="110.92" r="0.85"/>
<circle cx="218.04" cy="110.99" r="0.85"/>
<circle cx="222.91" cy="110.74" r="0.85"/>
<circle cx="221.75" cy="110.94" r="0.85"/>
<circle cx="226.16" cy="111.36" r="0.85"/>
<circle cx="218.23" cy="110.86" r="0.85"/>
<circle cx="219.04" cy="110.77" r="0.85"/>
<circle cx="225.2" cy="111.28" r="0.85"/>
<circle cx="214.59" cy="110.99" r="0.85"/>
<circle cx="217.69" cy="111.35" r="0.85"/>
<circle cx="224.25" cy="110.87" r="0.85"/>
<circle cx="224.45" cy="111.01" r="0.85"/>
<circle cx="224.2" cy="111.16" r="0.85"/>
<circle cx="217.82" cy="110.79" r="0.85"/>
<circle cx="224.66" cy="111.42" r="0.85"/>
<circle cx="225.4" cy="110.9" r="0.85"/>
<circle cx="221.14" cy="111.17" r="0.85"/>
<circle cx="224.03" cy="110.97" r="0.85"/>
<circle cx="225.62" cy="110.91" r="0.85"/>
<circle cx="217.35" cy="110.54" r="0.85"/>
<circle cx="220.09" cy="111.41" r="0.85"/>
<circle cx="223.48" cy="111.02" r="0.85"/>
<circle cx="223.96" cy="110.83" r="0.85"/>
<circle cx="224.13" cy="111.23" r="0.85"/>
<circle cx="223.73" cy="111.05" r="0.85"/>
<circle cx="225.2" cy="111.04" r="0.85"/>
</g>
<g stroke="#0b5580" stroke-width="0.7" fill="none" stroke-opacity="0.6">
<line x1="245.72" y1="106.65" x2="245.72" y2="107.81"/>
<line x1="245.72" y1="109.4" x2="245.72" y2="110.4"/>
<rect x="236.26" y="107.81" width="18.91" height="1.59"/>
<line x1="236.26" y1="108.66" x2="255.18" y2="108.66" stroke-width="1.9"/>
</g>
<g fill="#0b5580">
<circle cx="250.28" cy="107.11" r="1.0"/>
<circle cx="246.78" cy="109.98" r="1.0"/>
<circle cx="242.04" cy="108.84" r="1.0"/>
<circle cx="248.1" cy="108.39" r="1.0"/>
<circle cx="244.09" cy="107.96" r="1.0"/>
<circle cx="245.92" cy="109.76" r="1.0"/>
<circle cx="241.56" cy="109.13" r="1.0"/>
<circle cx="244.23" cy="107.54" r="1.0"/>
<circle cx="249.13" cy="107.35" r="1.0"/>
<circle cx="241.64" cy="107.62" r="1.0"/>
<circle cx="245.95" cy="109.54" r="1.0"/>
<circle cx="240.04" cy="109.28" r="1.0"/>
<circle cx="250.06" cy="107.9" r="1.0"/>
<circle cx="242.89" cy="110.18" r="1.0"/>
<circle cx="249.03" cy="108.53" r="1.0"/>
<circle cx="248.89" cy="107.38" r="1.0"/>
<circle cx="242.8" cy="107.39" r="1.0"/>
<circle cx="241.94" cy="107.89" r="1.0"/>
<circle cx="240.78" cy="108.47" r="1.0"/>
<circle cx="250.11" cy="107.23" r="1.0"/>
<circle cx="245.23" cy="108.18" r="1.0"/>
<circle cx="240.55" cy="109.5" r="1.0"/>
<circle cx="241.21" cy="109.62" r="1.0"/>
<circle cx="251.16" cy="109.34" r="1.0"/>
<circle cx="247.39" cy="108.72" r="1.0"/>
<circle cx="251.13" cy="107.14" r="1.0"/>
<circle cx="245.11" cy="109.23" r="1.0"/>
<circle cx="241.69" cy="109.69" r="1.0"/>
<circle cx="242.42" cy="109.43" r="1.0"/>
<circle cx="243.97" cy="107.78" r="1.0"/>
<circle cx="250.49" cy="108.44" r="1.0"/>
<circle cx="240.35" cy="106.8" r="1.0"/>
<circle cx="249.11" cy="109.92" r="1.0"/>
<circle cx="251.47" cy="109.08" r="1.0"/>
<circle cx="240.45" cy="110.3" r="1.0"/>
<circle cx="250.93" cy="107.44" r="1.0"/>
<circle cx="247.82" cy="107.1" r="1.0"/>
<circle cx="248.78" cy="109.13" r="1.0"/>
<circle cx="241.04" cy="107.15" r="1.0"/>
<circle cx="241.26" cy="109.06" r="1.0"/>
<circle cx="245.5" cy="107.84" r="1.0"/>
<circle cx="241.49" cy="108.23" r="1.0"/>
<circle cx="247.83" cy="107.9" r="1.0"/>
<circle cx="242.11" cy="106.79" r="1.0"/>
<circle cx="240.22" cy="108.51" r="1.0"/>
<circle cx="250.86" cy="107.91" r="1.0"/>
<circle cx="250.07" cy="109.02" r="1.0"/>
<circle cx="245.09" cy="108.16" r="1.0"/>
<circle cx="240.94" cy="109.07" r="1.0"/>
<circle cx="247.24" cy="109.64" r="1.0"/>
<circle cx="249.55" cy="109.68" r="1.0"/>
<circle cx="245.45" cy="108.34" r="1.0"/>
<circle cx="242.42" cy="109.11" r="1.0"/>
<circle cx="240.47" cy="109.13" r="1.0"/>
<circle cx="241.51" cy="108.99" r="1.0"/>
<circle cx="250.11" cy="110.11" r="1.0"/>
<circle cx="241.64" cy="108.78" r="1.0"/>
<circle cx="243.01" cy="107.45" r="1.0"/>
<circle cx="241.78" cy="108.09" r="1.0"/>
<circle cx="245.61" cy="109.56" r="1.0"/>
<circle cx="241.15" cy="109.71" r="1.0"/>
<circle cx="250.4" cy="108.26" r="1.0"/>
<circle cx="247.71" cy="108.71" r="1.0"/>
<circle cx="243.19" cy="108.33" r="1.0"/>
<circle cx="242.85" cy="107.35" r="1.0"/>
<circle cx="251.54" cy="108.32" r="1.0"/>
<circle cx="251.62" cy="107.59" r="1.0"/>
<circle cx="243.22" cy="108.18" r="1.0"/>
<circle cx="250.42" cy="108.9" r="1.0"/>
<circle cx="243.27" cy="106.88" r="1.0"/>
<circle cx="251.39" cy="107.99" r="1.0"/>
<circle cx="243.83" cy="108.44" r="1.0"/>
<circle cx="249.66" cy="108.61" r="1.0"/>
<circle cx="246.04" cy="108.6" r="1.0"/>
<circle cx="250.6" cy="108.16" r="1.0"/>
<circle cx="242.38" cy="107.5" r="1.0"/>
<circle cx="241.93" cy="109.24" r="1.0"/>
<circle cx="248.93" cy="108.93" r="1.0"/>
<circle cx="240.73" cy="108.84" r="1.0"/>
<circle cx="240.83" cy="109.41" r="1.0"/>
<circle cx="243.04" cy="109.73" r="1.0"/>
<circle cx="242.24" cy="109.53" r="1.0"/>
<circle cx="249.41" cy="110.06" r="1.0"/>
<circle cx="246.7" cy="109.86" r="1.0"/>
<circle cx="248.48" cy="108.53" r="1.0"/>
<circle cx="244.63" cy="108.24" r="1.0"/>
<circle cx="249.4" cy="108.73" r="1.0"/>
<circle cx="243.77" cy="109.05" r="1.0"/>
<circle cx="245.64" cy="107.37" r="1.0"/>
<circle cx="245.44" cy="108.41" r="1.0"/>
<circle cx="242" cy="108.01" r="1.0"/>
<circle cx="249.65" cy="109.32" r="1.0"/>
<circle cx="244.19" cy="109.13" r="1.0"/>
<circle cx="246.84" cy="108.13" r="1.0"/>
<circle cx="245.08" cy="107.23" r="1.0"/>
<circle cx="245.91" cy="108.61" r="1.0"/>
<circle cx="249.47" cy="107.3" r="1.0"/>
<circle cx="250.05" cy="107.37" r="1.0"/>
<circle cx="244.31" cy="109.46" r="1.0"/>
<circle cx="248.7" cy="106.98" r="1.0"/>
<circle cx="251.1" cy="107.76" r="1.0"/>
<circle cx="246.08" cy="110.07" r="1.0"/>
<circle cx="246.16" cy="108.61" r="1.0"/>
<circle cx="242.44" cy="108.26" r="1.0"/>
<circle cx="242.76" cy="108.43" r="1.0"/>
<circle cx="249.48" cy="108.16" r="1.0"/>
<circle cx="248.08" cy="108.13" r="1.0"/>
<circle cx="242.11" cy="108.56" r="1.0"/>
<circle cx="246.63" cy="107.07" r="1.0"/>
<circle cx="245.99" cy="108.48" r="1.0"/>
<circle cx="250.1" cy="108.82" r="1.0"/>
<circle cx="248.29" cy="109.18" r="1.0"/>
<circle cx="245.64" cy="108.08" r="1.0"/>
<circle cx="245.73" cy="108.49" r="1.0"/>
<circle cx="244.6" cy="108.77" r="1.0"/>
<circle cx="241.42" cy="108.07" r="1.0"/>
<circle cx="241.54" cy="109.93" r="1.0"/>
<circle cx="241.74" cy="109.52" r="1.0"/>
<circle cx="244.4" cy="107.38" r="1.0"/>
<circle cx="246.02" cy="107.58" r="1.0"/>
</g>
<g stroke="#0a3c5f" stroke-width="0.7" fill="none" stroke-opacity="0.6">
<line x1="270.94" y1="98.04" x2="270.94" y2="100.1"/>
<line x1="270.94" y1="104.29" x2="270.94" y2="106.58"/>
<rect x="261.48" y="100.1" width="18.91" height="4.19"/>
<line x1="261.48" y1="102.29" x2="280.4" y2="102.29" stroke-width="1.9"/>
</g>
<g fill="#0a3c5f">
<circle cx="267.86" cy="101.82" r="1.0"/>
<circle cx="268.99" cy="105.08" r="1.0"/>
<circle cx="274.55" cy="98.84" r="1.0"/>
<circle cx="275.06" cy="105.26" r="1.0"/>
<circle cx="276.37" cy="98.75" r="1.0"/>
<circle cx="276.09" cy="101.05" r="1.0"/>
<circle cx="272.51" cy="102.28" r="1.0"/>
<circle cx="269.33" cy="99.04" r="1.0"/>
<circle cx="270.15" cy="103.45" r="1.0"/>
<circle cx="271" cy="102.52" r="1.0"/>
<circle cx="276.51" cy="100.6" r="1.0"/>
<circle cx="274.22" cy="102.07" r="1.0"/>
<circle cx="274.61" cy="98.23" r="1.0"/>
<circle cx="275.5" cy="103.99" r="1.0"/>
<circle cx="272.62" cy="101.68" r="1.0"/>
<circle cx="268.16" cy="102.84" r="1.0"/>
<circle cx="271.44" cy="103.37" r="1.0"/>
<circle cx="275.97" cy="104.53" r="1.0"/>
<circle cx="271.18" cy="104" r="1.0"/>
<circle cx="270.15" cy="103.92" r="1.0"/>
<circle cx="268.63" cy="99.85" r="1.0"/>
<circle cx="272.69" cy="103.07" r="1.0"/>
<circle cx="276.35" cy="99.26" r="1.0"/>
<circle cx="271.1" cy="99.43" r="1.0"/>
<circle cx="271.34" cy="102.69" r="1.0"/>
<circle cx="266.77" cy="98.83" r="1.0"/>
<circle cx="268.49" cy="101.12" r="1.0"/>
<circle cx="269.83" cy="101.13" r="1.0"/>
<circle cx="266.05" cy="102.84" r="1.0"/>
<circle cx="271.49" cy="100.04" r="1.0"/>
<circle cx="271.77" cy="100.01" r="1.0"/>
<circle cx="272.72" cy="105.89" r="1.0"/>
<circle cx="270.48" cy="100.82" r="1.0"/>
<circle cx="270.57" cy="106.38" r="1.0"/>
<circle cx="268.69" cy="103.56" r="1.0"/>
<circle cx="271.09" cy="102.18" r="1.0"/>
<circle cx="269.56" cy="100.1" r="1.0"/>
<circle cx="269.19" cy="102.7" r="1.0"/>
<circle cx="275.23" cy="102.54" r="1.0"/>
<circle cx="270.84" cy="102.01" r="1.0"/>
<circle cx="268.39" cy="98.34" r="1.0"/>
<circle cx="274.17" cy="99.7" r="1.0"/>
<circle cx="266.89" cy="102.5" r="1.0"/>
<circle cx="270.23" cy="99.73" r="1.0"/>
<circle cx="270.23" cy="99.44" r="1.0"/>
<circle cx="273.73" cy="101.12" r="1.0"/>
<circle cx="276.38" cy="100.57" r="1.0"/>
<circle cx="273.77" cy="100.89" r="1.0"/>
<circle cx="269.19" cy="100.7" r="1.0"/>
<circle cx="273.02" cy="99.97" r="1.0"/>
<circle cx="274.75" cy="106.33" r="1.0"/>
<circle cx="273.82" cy="102.86" r="1.0"/>
<circle cx="274.32" cy="102.08" r="1.0"/>
<circle cx="273.41" cy="105.81" r="1.0"/>
<circle cx="275.34" cy="100.9" r="1.0"/>
<circle cx="265.06" cy="103.12" r="1.0"/>
<circle cx="270.91" cy="101.89" r="1.0"/>
<circle cx="276.43" cy="106.4" r="1.0"/>
<circle cx="274.3" cy="105.2" r="1.0"/>
<circle cx="275.36" cy="103.7" r="1.0"/>
<circle cx="270.37" cy="104.66" r="1.0"/>
<circle cx="270.44" cy="104.19" r="1.0"/>
<circle cx="269.64" cy="102.73" r="1.0"/>
<circle cx="271.6" cy="104.84" r="1.0"/>
<circle cx="274.34" cy="104.34" r="1.0"/>
<circle cx="275.08" cy="100.47" r="1.0"/>
<circle cx="267.2" cy="105.66" r="1.0"/>
<circle cx="268.62" cy="102.28" r="1.0"/>
<circle cx="271.91" cy="99.8" r="1.0"/>
<circle cx="266.06" cy="99.08" r="1.0"/>
<circle cx="275.01" cy="99.88" r="1.0"/>
<circle cx="274.95" cy="103.61" r="1.0"/>
<circle cx="270.07" cy="100.26" r="1.0"/>
<circle cx="275.81" cy="102.83" r="1.0"/>
<circle cx="271.71" cy="101.32" r="1.0"/>
<circle cx="270.91" cy="102.23" r="1.0"/>
<circle cx="271.4" cy="104.86" r="1.0"/>
<circle cx="271.14" cy="98.54" r="1.0"/>
<circle cx="273.14" cy="102.33" r="1.0"/>
<circle cx="272.06" cy="104.54" r="1.0"/>
<circle cx="269.18" cy="100.42" r="1.0"/>
<circle cx="271.24" cy="103.79" r="1.0"/>
<circle cx="269.77" cy="99.85" r="1.0"/>
<circle cx="271.67" cy="100.54" r="1.0"/>
<circle cx="276.45" cy="105.16" r="1.0"/>
<circle cx="272.42" cy="105.63" r="1.0"/>
<circle cx="276.82" cy="102.01" r="1.0"/>
<circle cx="274.68" cy="104.4" r="1.0"/>
<circle cx="267.04" cy="99.11" r="1.0"/>
<circle cx="274.8" cy="105.86" r="1.0"/>
<circle cx="275.62" cy="103.79" r="1.0"/>
<circle cx="273.19" cy="102.41" r="1.0"/>
<circle cx="275.54" cy="98.24" r="1.0"/>
<circle cx="268.45" cy="103.88" r="1.0"/>
<circle cx="271.08" cy="101.43" r="1.0"/>
<circle cx="267.18" cy="104.3" r="1.0"/>
<circle cx="272.48" cy="102.35" r="1.0"/>
<circle cx="276.79" cy="104.6" r="1.0"/>
<circle cx="272.56" cy="104.04" r="1.0"/>
<circle cx="274.35" cy="99.21" r="1.0"/>
<circle cx="268.65" cy="101.45" r="1.0"/>
<circle cx="268.62" cy="102.39" r="1.0"/>
<circle cx="275" cy="102.55" r="1.0"/>
<circle cx="267.34" cy="106.24" r="1.0"/>
<circle cx="270.91" cy="104.67" r="1.0"/>
<circle cx="272.68" cy="104.6" r="1.0"/>
<circle cx="271.31" cy="103.09" r="1.0"/>
<circle cx="269.89" cy="98.23" r="1.0"/>
<circle cx="266.45" cy="102.36" r="1.0"/>
<circle cx="266.28" cy="99.39" r="1.0"/>
<circle cx="271.21" cy="100.76" r="1.0"/>
<circle cx="274.77" cy="101.17" r="1.0"/>
<circle cx="265.75" cy="106.56" r="1.0"/>
<circle cx="265.16" cy="105.96" r="1.0"/>
<circle cx="273.49" cy="101.94" r="1.0"/>
<circle cx="269.21" cy="105.01" r="1.0"/>
<circle cx="266.19" cy="101.1" r="1.0"/>
<circle cx="275.73" cy="100.15" r="1.0"/>
<circle cx="270.35" cy="104.79" r="1.0"/>
<circle cx="269.58" cy="103.71" r="1.0"/>
<circle cx="271.92" cy="100.09" r="1.0"/>
<circle cx="272.36" cy="99.06" r="1.0"/>
<circle cx="267.97" cy="103.13" r="1.0"/>
<circle cx="275.14" cy="100.33" r="1.0"/>
<circle cx="274.68" cy="104.92" r="1.0"/>
<circle cx="276.39" cy="103.69" r="1.0"/>
<circle cx="270.89" cy="98.31" r="1.0"/>
<circle cx="269.63" cy="100.09" r="1.0"/>
<circle cx="273.53" cy="103.01" r="1.0"/>
<circle cx="275.39" cy="101.81" r="1.0"/>
<circle cx="270.75" cy="99.66" r="1.0"/>
<circle cx="267.07" cy="101.68" r="1.0"/>
<circle cx="269.26" cy="104.53" r="1.0"/>
<circle cx="268.46" cy="99.07" r="1.0"/>
<circle cx="271.34" cy="103.71" r="1.0"/>
<circle cx="269.58" cy="102.87" r="1.0"/>
<circle cx="266.47" cy="103.23" r="1.0"/>
<circle cx="274.8" cy="101.64" r="1.0"/>
<circle cx="267.28" cy="103.67" r="1.0"/>
<circle cx="268.37" cy="100.42" r="1.0"/>
<circle cx="272.89" cy="102.22" r="1.0"/>
<circle cx="269.06" cy="101.47" r="1.0"/>
<circle cx="266.11" cy="99.58" r="1.0"/>
<circle cx="268.21" cy="98.26" r="1.0"/>
<circle cx="270.27" cy="101.46" r="1.0"/>
<circle cx="274.93" cy="103.69" r="1.0"/>
<circle cx="269.2" cy="101.67" r="1.0"/>
<circle cx="273.58" cy="104.01" r="1.0"/>
<circle cx="271" cy="100.3" r="1.0"/>
<circle cx="266.57" cy="101.81" r="1.0"/>
<circle cx="273.39" cy="98.92" r="1.0"/>
<circle cx="271.98" cy="102.74" r="1.0"/>
<circle cx="272.22" cy="103.87" r="1.0"/>
<circle cx="267.53" cy="100.57" r="1.0"/>
<circle cx="271.09" cy="101.19" r="1.0"/>
<circle cx="271.44" cy="103.43" r="1.0"/>
<circle cx="269.57" cy="102.97" r="1.0"/>
<circle cx="268.7" cy="104.5" r="1.0"/>
<circle cx="269.64" cy="105.65" r="1.0"/>
<circle cx="275.1" cy="100.63" r="1.0"/>
<circle cx="268.82" cy="101.29" r="1.0"/>
<circle cx="271.67" cy="103.07" r="1.0"/>
<circle cx="269.3" cy="103.56" r="1.0"/>
<circle cx="265.79" cy="104.9" r="1.0"/>
<circle cx="268.7" cy="102.3" r="1.0"/>
<circle cx="273.51" cy="102.05" r="1.0"/>
<circle cx="268.36" cy="100.7" r="1.0"/>
<circle cx="274.2" cy="98.41" r="1.0"/>
<circle cx="266.58" cy="106.44" r="1.0"/>
<circle cx="273.07" cy="102.42" r="1.0"/>
<circle cx="272.88" cy="101.54" r="1.0"/>
<circle cx="272.83" cy="104.2" r="1.0"/>
<circle cx="273.3" cy="99.72" r="1.0"/>
<circle cx="269.19" cy="102.23" r="1.0"/>
<circle cx="266.38" cy="103.65" r="1.0"/>
<circle cx="275.83" cy="103.71" r="1.0"/>
<circle cx="265.49" cy="102.78" r="1.0"/>
<circle cx="267.36" cy="100.5" r="1.0"/>
<circle cx="268.61" cy="101.83" r="1.0"/>
<circle cx="268.7" cy="102.93" r="1.0"/>
<circle cx="272.58" cy="101.69" r="1.0"/>
<circle cx="271.77" cy="99.75" r="1.0"/>
<circle cx="270.17" cy="102.79" r="1.0"/>
<circle cx="273.12" cy="104.62" r="1.0"/>
<circle cx="274.9" cy="102.37" r="1.0"/>
<circle cx="274.22" cy="102.18" r="1.0"/>
<circle cx="275.14" cy="102.5" r="1.0"/>
<circle cx="272.21" cy="101.39" r="1.0"/>
<circle cx="266.33" cy="100.07" r="1.0"/>
<circle cx="274.39" cy="101.61" r="1.0"/>
<circle cx="273.9" cy="100.58" r="1.0"/>
<circle cx="269.68" cy="98.19" r="1.0"/>
<circle cx="273.87" cy="99.83" r="1.0"/>
<circle cx="266.08" cy="101.09" r="1.0"/>
<circle cx="276.23" cy="104.51" r="1.0"/>
<circle cx="273.21" cy="99" r="1.0"/>
<circle cx="272.46" cy="102.71" r="1.0"/>
<circle cx="273.29" cy="103.28" r="1.0"/>
<circle cx="270.09" cy="101.99" r="1.0"/>
<circle cx="266.53" cy="102.82" r="1.0"/>
<circle cx="273.34" cy="102.22" r="1.0"/>
<circle cx="274.56" cy="103.22" r="1.0"/>
<circle cx="276.5" cy="102.57" r="1.0"/>
<circle cx="272.57" cy="98.4" r="1.0"/>
<circle cx="265.72" cy="104.56" r="1.0"/>
<circle cx="269.25" cy="102.93" r="1.0"/>
<circle cx="268.69" cy="104.06" r="1.0"/>
<circle cx="266.63" cy="101.19" r="1.0"/>
<circle cx="267.83" cy="103.53" r="1.0"/>
<circle cx="270.29" cy="102.1" r="1.0"/>
</g>
<g stroke="#fda006" stroke-width="0.7" fill="none" stroke-opacity="0.6">
<line x1="296.16" y1="86.7" x2="296.16" y2="90.7"/>
<line x1="296.16" y1="96.3" x2="296.16" y2="98"/>
<rect x="286.7" y="90.7" width="18.91" height="5.6"/>
<line x1="286.7" y1="93.68" x2="305.62" y2="93.68" stroke-width="1.9"/>
</g>
<g fill="#fda006">
<circle cx="301.33" cy="88.7" r="1.0"/>
<circle cx="300.72" cy="95.76" r="1.0"/>
<circle cx="291.92" cy="90.87" r="1.0"/>
<circle cx="299.9" cy="97.12" r="1.0"/>
<circle cx="296.73" cy="95.13" r="1.0"/>
<circle cx="298.13" cy="93.51" r="1.0"/>
<circle cx="297.33" cy="96.2" r="1.0"/>
<circle cx="300.09" cy="91.97" r="1.0"/>
<circle cx="294.51" cy="91.1" r="1.0"/>
<circle cx="292.68" cy="91.42" r="1.0"/>
<circle cx="292.57" cy="90.55" r="1.0"/>
<circle cx="298.55" cy="92.43" r="1.0"/>
<circle cx="294.08" cy="95.6" r="1.0"/>
<circle cx="295.79" cy="93.03" r="1.0"/>
<circle cx="291.08" cy="95.32" r="1.0"/>
<circle cx="290.36" cy="91.77" r="1.0"/>
<circle cx="291.23" cy="86.78" r="1.0"/>
<circle cx="298.73" cy="94.02" r="1.0"/>
<circle cx="291.52" cy="88.38" r="1.0"/>
<circle cx="296.03" cy="94.34" r="1.0"/>
<circle cx="296.67" cy="96.14" r="1.0"/>
<circle cx="290.33" cy="92.6" r="1.0"/>
<circle cx="297.67" cy="88.46" r="1.0"/>
<circle cx="301.32" cy="96.57" r="1.0"/>
<circle cx="293.15" cy="95.49" r="1.0"/>
<circle cx="291.88" cy="96.26" r="1.0"/>
<circle cx="300.19" cy="92.44" r="1.0"/>
<circle cx="297.8" cy="94.44" r="1.0"/>
<circle cx="300.26" cy="91.13" r="1.0"/>
<circle cx="299.53" cy="91.42" r="1.0"/>
<circle cx="300.08" cy="94.8" r="1.0"/>
<circle cx="292.42" cy="93.86" r="1.0"/>
<circle cx="300.02" cy="97.36" r="1.0"/>
<circle cx="296.77" cy="95.38" r="1.0"/>
<circle cx="294.61" cy="90.08" r="1.0"/>
<circle cx="290.72" cy="92.18" r="1.0"/>
<circle cx="296.95" cy="96.35" r="1.0"/>
<circle cx="301.43" cy="96.16" r="1.0"/>
<circle cx="292.1" cy="93.51" r="1.0"/>
<circle cx="291.18" cy="95.36" r="1.0"/>
<circle cx="298.39" cy="88.47" r="1.0"/>
<circle cx="301.73" cy="91.36" r="1.0"/>
<circle cx="291.3" cy="89.84" r="1.0"/>
<circle cx="292.5" cy="89.36" r="1.0"/>
<circle cx="298.8" cy="92.57" r="1.0"/>
<circle cx="300.37" cy="93.54" r="1.0"/>
<circle cx="293.59" cy="92.68" r="1.0"/>
<circle cx="298.08" cy="97.93" r="1.0"/>
<circle cx="294.25" cy="98" r="1.0"/>
<circle cx="295.43" cy="94.08" r="1.0"/>
<circle cx="300.95" cy="97.58" r="1.0"/>
<circle cx="295.49" cy="91.9" r="1.0"/>
<circle cx="296.91" cy="90.7" r="1.0"/>
<circle cx="291.24" cy="95.26" r="1.0"/>
<circle cx="294.07" cy="91.45" r="1.0"/>
<circle cx="301" cy="90.96" r="1.0"/>
<circle cx="299.85" cy="88.08" r="1.0"/>
<circle cx="290.94" cy="95.05" r="1.0"/>
<circle cx="293.75" cy="96.21" r="1.0"/>
<circle cx="293.78" cy="92.96" r="1.0"/>
<circle cx="298.28" cy="91.04" r="1.0"/>
<circle cx="295.54" cy="93.21" r="1.0"/>
<circle cx="294.64" cy="88.44" r="1.0"/>
<circle cx="297.12" cy="90.57" r="1.0"/>
<circle cx="296.93" cy="91.12" r="1.0"/>
<circle cx="292.37" cy="95.3" r="1.0"/>
<circle cx="300.78" cy="92.44" r="1.0"/>
<circle cx="300.45" cy="95.61" r="1.0"/>
<circle cx="293.24" cy="94.28" r="1.0"/>
<circle cx="293.21" cy="89.46" r="1.0"/>
<circle cx="296.03" cy="90.81" r="1.0"/>
<circle cx="297.02" cy="96.48" r="1.0"/>
<circle cx="291.57" cy="94.67" r="1.0"/>
<circle cx="291.18" cy="94.14" r="1.0"/>
<circle cx="295.44" cy="95.04" r="1.0"/>
<circle cx="300.47" cy="92.8" r="1.0"/>
<circle cx="299.21" cy="95.73" r="1.0"/>
<circle cx="300.07" cy="94.02" r="1.0"/>
<circle cx="294.88" cy="95.57" r="1.0"/>
<circle cx="296.91" cy="88.68" r="1.0"/>
<circle cx="299.43" cy="93.33" r="1.0"/>
<circle cx="290.92" cy="95.9" r="1.0"/>
<circle cx="290.41" cy="93.35" r="1.0"/>
<circle cx="297.28" cy="89.69" r="1.0"/>
<circle cx="298.62" cy="92.88" r="1.0"/>
<circle cx="295.28" cy="90.27" r="1.0"/>
<circle cx="300.57" cy="89.26" r="1.0"/>
<circle cx="296.91" cy="97.4" r="1.0"/>
<circle cx="292.22" cy="97.84" r="1.0"/>
<circle cx="299.28" cy="93.79" r="1.0"/>
<circle cx="298.3" cy="97.47" r="1.0"/>
<circle cx="294.65" cy="92.71" r="1.0"/>
<circle cx="298.97" cy="95.57" r="1.0"/>
<circle cx="290.75" cy="87.4" r="1.0"/>
<circle cx="297.39" cy="95.81" r="1.0"/>
<circle cx="299.75" cy="89.44" r="1.0"/>
<circle cx="291.57" cy="90.61" r="1.0"/>
<circle cx="293.25" cy="88.13" r="1.0"/>
<circle cx="292.52" cy="96.49" r="1.0"/>
<circle cx="297.12" cy="91.08" r="1.0"/>
<circle cx="291.54" cy="93.03" r="1.0"/>
<circle cx="299.72" cy="93.12" r="1.0"/>
<circle cx="293.67" cy="91.59" r="1.0"/>
<circle cx="298.38" cy="88.84" r="1.0"/>
<circle cx="300.61" cy="95.38" r="1.0"/>
<circle cx="296.62" cy="92.1" r="1.0"/>
<circle cx="301.48" cy="96.47" r="1.0"/>
<circle cx="292.02" cy="89.9" r="1.0"/>
<circle cx="296.18" cy="93.35" r="1.0"/>
<circle cx="290.65" cy="88.48" r="1.0"/>
<circle cx="298.29" cy="90.52" r="1.0"/>
<circle cx="294.89" cy="86.71" r="1.0"/>
<circle cx="300.25" cy="96.09" r="1.0"/>
<circle cx="294.9" cy="93.31" r="1.0"/>
<circle cx="291.13" cy="89.7" r="1.0"/>
<circle cx="294.14" cy="97.76" r="1.0"/>
<circle cx="297.22" cy="91.83" r="1.0"/>
<circle cx="294.51" cy="91.25" r="1.0"/>
<circle cx="295.78" cy="93" r="1.0"/>
<circle cx="294.43" cy="97.32" r="1.0"/>
<circle cx="290.3" cy="95.59" r="1.0"/>
<circle cx="290.48" cy="96.96" r="1.0"/>
<circle cx="295.68" cy="95.46" r="1.0"/>
<circle cx="291.96" cy="92.42" r="1.0"/>
<circle cx="298.19" cy="93.79" r="1.0"/>
<circle cx="296.16" cy="94.15" r="1.0"/>
<circle cx="293.34" cy="90.4" r="1.0"/>
<circle cx="301.58" cy="95.81" r="1.0"/>
<circle cx="296.88" cy="92.59" r="1.0"/>
<circle cx="299.37" cy="93.73" r="1.0"/>
<circle cx="297.74" cy="88.71" r="1.0"/>
<circle cx="293.57" cy="96.29" r="1.0"/>
<circle cx="299.66" cy="96.63" r="1.0"/>
<circle cx="298.31" cy="86.85" r="1.0"/>
<circle cx="299" cy="96.02" r="1.0"/>
<circle cx="296.27" cy="87.04" r="1.0"/>
<circle cx="296.76" cy="96.22" r="1.0"/>
<circle cx="295.05" cy="96.57" r="1.0"/>
<circle cx="294.06" cy="90.19" r="1.0"/>
<circle cx="301.95" cy="92.29" r="1.0"/>
<circle cx="293.12" cy="97.62" r="1.0"/>
<circle cx="293.02" cy="93.22" r="1.0"/>
<circle cx="290.32" cy="94.99" r="1.0"/>
<circle cx="300.56" cy="91.86" r="1.0"/>
<circle cx="296.97" cy="97.99" r="1.0"/>
<circle cx="293.82" cy="92.37" r="1.0"/>
<circle cx="293.81" cy="92.93" r="1.0"/>
<circle cx="293.89" cy="92.34" r="1.0"/>
<circle cx="301.35" cy="94.45" r="1.0"/>
<circle cx="292.35" cy="95.15" r="1.0"/>
<circle cx="297.11" cy="94.53" r="1.0"/>
<circle cx="299.41" cy="89.8" r="1.0"/>
<circle cx="295.31" cy="93.99" r="1.0"/>
<circle cx="295.98" cy="92.63" r="1.0"/>
<circle cx="300.89" cy="94.82" r="1.0"/>
<circle cx="290.51" cy="94.2" r="1.0"/>
<circle cx="292.18" cy="90.52" r="1.0"/>
<circle cx="292.82" cy="94.41" r="1.0"/>
<circle cx="294.97" cy="87.25" r="1.0"/>
<circle cx="300.48" cy="91.95" r="1.0"/>
<circle cx="297.92" cy="88.32" r="1.0"/>
<circle cx="301.65" cy="91.46" r="1.0"/>
<circle cx="297.36" cy="87.31" r="1.0"/>
<circle cx="300.61" cy="87.05" r="1.0"/>
<circle cx="294.28" cy="90.07" r="1.0"/>
<circle cx="296.6" cy="91.93" r="1.0"/>
<circle cx="300.61" cy="91.65" r="1.0"/>
<circle cx="299.12" cy="92.81" r="1.0"/>
<circle cx="297.93" cy="90.1" r="1.0"/>
<circle cx="294.24" cy="90.18" r="1.0"/>
<circle cx="290.77" cy="89.67" r="1.0"/>
<circle cx="297.66" cy="92.17" r="1.0"/>
<circle cx="297.32" cy="96.13" r="1.0"/>
<circle cx="293.28" cy="89.5" r="1.0"/>
<circle cx="301.2" cy="94.35" r="1.0"/>
<circle cx="296.92" cy="93.52" r="1.0"/>
<circle cx="297.51" cy="92.28" r="1.0"/>
<circle cx="298.82" cy="93.79" r="1.0"/>
<circle cx="292.08" cy="94.56" r="1.0"/>
<circle cx="291.92" cy="92.07" r="1.0"/>
<circle cx="299.88" cy="93.49" r="1.0"/>
<circle cx="295.25" cy="95.47" r="1.0"/>
<circle cx="296.81" cy="95.01" r="1.0"/>
<circle cx="294.15" cy="96.77" r="1.0"/>
<circle cx="298.67" cy="93.86" r="1.0"/>
<circle cx="299.28" cy="96.88" r="1.0"/>
<circle cx="299.39" cy="93.1" r="1.0"/>
<circle cx="301.82" cy="97.2" r="1.0"/>
<circle cx="296.44" cy="96.88" r="1.0"/>
<circle cx="301.39" cy="92.71" r="1.0"/>
</g>
<g stroke="#ffaf18" stroke-width="0.7" fill="none" stroke-opacity="0.6">
<line x1="321.38" y1="78.2" x2="321.38" y2="80.59"/>
<line x1="321.38" y1="84.99" x2="321.38" y2="86.32"/>
<rect x="311.92" y="80.59" width="18.91" height="4.4"/>
<line x1="311.92" y1="82.82" x2="330.84" y2="82.82" stroke-width="1.9"/>
</g>
<g fill="#ffaf18">
<circle cx="321.09" cy="82.53" r="1.0"/>
<circle cx="323.22" cy="82.5" r="1.0"/>
<circle cx="327.18" cy="82.35" r="1.0"/>
<circle cx="318.16" cy="85.88" r="1.0"/>
<circle cx="315.78" cy="82.76" r="1.0"/>
<circle cx="317.04" cy="84.24" r="1.0"/>
<circle cx="322.03" cy="79.25" r="1.0"/>
<circle cx="317.61" cy="81.4" r="1.0"/>
<circle cx="317.22" cy="79.93" r="1.0"/>
<circle cx="317.56" cy="83.97" r="1.0"/>
<circle cx="317.37" cy="83.39" r="1.0"/>
<circle cx="318.33" cy="81.8" r="1.0"/>
<circle cx="322.99" cy="79.02" r="1.0"/>
<circle cx="319.53" cy="83.25" r="1.0"/>
<circle cx="319.29" cy="81.69" r="1.0"/>
<circle cx="326.16" cy="86.26" r="1.0"/>
<circle cx="316.23" cy="78.69" r="1.0"/>
<circle cx="323.1" cy="79.5" r="1.0"/>
<circle cx="316.16" cy="79.06" r="1.0"/>
<circle cx="326.35" cy="85.9" r="1.0"/>
<circle cx="326.65" cy="84.14" r="1.0"/>
<circle cx="318.44" cy="84.44" r="1.0"/>
<circle cx="318.56" cy="84.49" r="1.0"/>
<circle cx="317.86" cy="84.98" r="1.0"/>
<circle cx="324.45" cy="81.87" r="1.0"/>
<circle cx="327.24" cy="84.54" r="1.0"/>
<circle cx="318.02" cy="84.97" r="1.0"/>
<circle cx="325.68" cy="84.55" r="1.0"/>
<circle cx="325.76" cy="83.63" r="1.0"/>
<circle cx="325.21" cy="83.41" r="1.0"/>
<circle cx="321.21" cy="83.42" r="1.0"/>
<circle cx="326.01" cy="79.96" r="1.0"/>
<circle cx="322.54" cy="80.22" r="1.0"/>
<circle cx="320.82" cy="78.63" r="1.0"/>
<circle cx="317.94" cy="86.04" r="1.0"/>
<circle cx="324.7" cy="80.53" r="1.0"/>
<circle cx="325.69" cy="84.88" r="1.0"/>
<circle cx="327.25" cy="80.14" r="1.0"/>
<circle cx="316.78" cy="83.04" r="1.0"/>
<circle cx="327" cy="82.13" r="1.0"/>
<circle cx="317.24" cy="82.4" r="1.0"/>
<circle cx="317.45" cy="82.95" r="1.0"/>
<circle cx="323.55" cy="84.29" r="1.0"/>
<circle cx="326.34" cy="80.32" r="1.0"/>
<circle cx="323.94" cy="81.23" r="1.0"/>
<circle cx="324.84" cy="80.49" r="1.0"/>
<circle cx="323.63" cy="82.33" r="1.0"/>
<circle cx="318.2" cy="79.07" r="1.0"/>
<circle cx="320.56" cy="81.91" r="1.0"/>
<circle cx="327.2" cy="82.31" r="1.0"/>
<circle cx="319.2" cy="82.42" r="1.0"/>
<circle cx="321.23" cy="81.63" r="1.0"/>
<circle cx="317.06" cy="83.96" r="1.0"/>
<circle cx="323.58" cy="84.67" r="1.0"/>
<circle cx="317.21" cy="81.93" r="1.0"/>
<circle cx="316.79" cy="83.11" r="1.0"/>
<circle cx="326.34" cy="85.13" r="1.0"/>
<circle cx="319.6" cy="79.79" r="1.0"/>
<circle cx="325.92" cy="80.97" r="1.0"/>
<circle cx="317.55" cy="83.13" r="1.0"/>
<circle cx="318.59" cy="85.41" r="1.0"/>
<circle cx="321.48" cy="81.94" r="1.0"/>
<circle cx="320.29" cy="82.42" r="1.0"/>
<circle cx="315.58" cy="85.72" r="1.0"/>
<circle cx="323.61" cy="83.9" r="1.0"/>
<circle cx="321.96" cy="85.16" r="1.0"/>
<circle cx="323.64" cy="86.17" r="1.0"/>
<circle cx="323.96" cy="83.56" r="1.0"/>
<circle cx="320.42" cy="85.12" r="1.0"/>
<circle cx="326.99" cy="81.14" r="1.0"/>
<circle cx="320.31" cy="85.26" r="1.0"/>
<circle cx="317.15" cy="80.73" r="1.0"/>
<circle cx="322.66" cy="82.49" r="1.0"/>
<circle cx="326.43" cy="82.83" r="1.0"/>
<circle cx="319.92" cy="82.95" r="1.0"/>
<circle cx="318.31" cy="78.35" r="1.0"/>
<circle cx="325.45" cy="82.31" r="1.0"/>
<circle cx="324.75" cy="81.29" r="1.0"/>
<circle cx="323.68" cy="81.95" r="1.0"/>
<circle cx="319.3" cy="83.39" r="1.0"/>
</g>
<g stroke="#ffc93a" stroke-width="0.7" fill="none" stroke-opacity="0.6">
<line x1="346.6" y1="55.3" x2="346.6" y2="64.2"/>
<line x1="346.6" y1="74.7" x2="346.6" y2="77.43"/>
<rect x="337.14" y="64.2" width="18.91" height="10.5"/>
<line x1="337.14" y1="69.31" x2="356.06" y2="69.31" stroke-width="1.9"/>
</g>
<g fill="#ffc93a">
<circle cx="347.18" cy="66.32" r="1.0"/>
<circle cx="352.19" cy="73.28" r="1.0"/>
<circle cx="349.52" cy="77.42" r="1.0"/>
<circle cx="346.72" cy="60.52" r="1.0"/>
<circle cx="352.46" cy="67.42" r="1.0"/>
<circle cx="348.14" cy="74.87" r="1.0"/>
<circle cx="345.16" cy="64.33" r="1.0"/>
<circle cx="345.34" cy="64.97" r="1.0"/>
<circle cx="347.94" cy="68.77" r="1.0"/>
<circle cx="344.49" cy="65.68" r="1.0"/>
<circle cx="347.11" cy="66.67" r="1.0"/>
<circle cx="347.93" cy="74.99" r="1.0"/>
<circle cx="351.45" cy="74.38" r="1.0"/>
<circle cx="349.23" cy="69.88" r="1.0"/>
<circle cx="346.32" cy="68.86" r="1.0"/>
<circle cx="342.36" cy="75.01" r="1.0"/>
<circle cx="346.94" cy="57.89" r="1.0"/>
<circle cx="346.93" cy="68.82" r="1.0"/>
<circle cx="343.5" cy="61.94" r="1.0"/>
<circle cx="350.42" cy="75.55" r="1.0"/>
<circle cx="348.27" cy="70.16" r="1.0"/>
<circle cx="351.27" cy="61.44" r="1.0"/>
<circle cx="341.19" cy="60.01" r="1.0"/>
<circle cx="350.54" cy="71.87" r="1.0"/>
<circle cx="342.13" cy="61.79" r="1.0"/>
<circle cx="343.65" cy="75.75" r="1.0"/>
<circle cx="344.9" cy="76.31" r="1.0"/>
<circle cx="346.85" cy="62.3" r="1.0"/>
<circle cx="341.72" cy="70.32" r="1.0"/>
<circle cx="352.49" cy="71.56" r="1.0"/>
<circle cx="346" cy="65.32" r="1.0"/>
<circle cx="350.14" cy="69.77" r="1.0"/>
<circle cx="342.45" cy="63.88" r="1.0"/>
<circle cx="345.02" cy="65.62" r="1.0"/>
<circle cx="343.49" cy="68.88" r="1.0"/>
<circle cx="344.7" cy="72.09" r="1.0"/>
<circle cx="340.88" cy="71.87" r="1.0"/>
<circle cx="347.44" cy="75.24" r="1.0"/>
<circle cx="342.79" cy="76.8" r="1.0"/>
<circle cx="343.93" cy="64.85" r="1.0"/>
<circle cx="343.54" cy="73.1" r="1.0"/>
<circle cx="341.76" cy="61.2" r="1.0"/>
<circle cx="350.85" cy="66.52" r="1.0"/>
<circle cx="345.69" cy="75.23" r="1.0"/>
<circle cx="348" cy="62.69" r="1.0"/>
<circle cx="341.19" cy="72.08" r="1.0"/>
<circle cx="345.03" cy="70.55" r="1.0"/>
<circle cx="344.17" cy="64.96" r="1.0"/>
<circle cx="348.36" cy="71.29" r="1.0"/>
<circle cx="344.85" cy="62.03" r="1.0"/>
<circle cx="347.53" cy="71.78" r="1.0"/>
<circle cx="342.94" cy="57.98" r="1.0"/>
<circle cx="349.11" cy="56.32" r="1.0"/>
<circle cx="348.56" cy="72.06" r="1.0"/>
<circle cx="341.51" cy="72.98" r="1.0"/>
<circle cx="350.3" cy="40.5" r="1.0"/>
</g>
<path d="M205.4 13.4 V117.3 H362.3" class="ax" fill="none"/>
<rect x="314.7" y="104.2" width="3.6" height="3.6" fill="#a9e3f5" opacity="0.6"/>
<circle cx="316.5" cy="106" r="0.7" fill="#62d8f0" opacity="0.6"/>
<text x="320.9" y="106.9" class="lg">1:80</text>
<rect x="314.7" y="109.2" width="3.6" height="3.6" fill="#6f9fc0" opacity="0.6"/>
<circle cx="316.5" cy="111" r="0.7" fill="#0b5580" opacity="0.6"/>
<text x="320.9" y="111.9" class="lg">1:160</text>
<rect x="330.4" y="104.2" width="3.6" height="3.6" fill="#6f94ad" opacity="0.6"/>
<circle cx="332.2" cy="106" r="0.7" fill="#0a3c5f" opacity="0.6"/>
<text x="336.6" y="106.9" class="lg">1:320</text>
<rect x="330.4" y="109.2" width="3.6" height="3.6" fill="#fbc472" opacity="0.6"/>
<circle cx="332.2" cy="111" r="0.7" fill="#fda006" opacity="0.6"/>
<text x="336.6" y="111.9" class="lg">1:640</text>
<rect x="345" y="104.2" width="3.6" height="3.6" fill="#fbcb7a" opacity="0.6"/>
<circle cx="346.8" cy="106" r="0.7" fill="#ffaf18" opacity="0.6"/>
<text x="351.2" y="106.9" class="lg">1:1280</text>
<rect x="345" y="109.2" width="3.6" height="3.6" fill="#fcd68a" opacity="0.6"/>
<circle cx="346.8" cy="111" r="0.7" fill="#ffc93a" opacity="0.6"/>
<text x="351.2" y="111.9" class="lg">1:≥2560</text>
<text x="5.8" y="140" class="ttl" textLength="92.7" lengthAdjust="spacingAndGlyphs">(C) Centromere pattern (n = 129)</text>
<text class="axt" transform="translate(6.2,200) rotate(-90)" text-anchor="middle">Light intensity unit</text>
<line x1="20.4" y1="245.6" x2="22" y2="245.6" class="ax"/>
<text x="18.9" y="248.3" class="tk" text-anchor="end">0</text>
<line x1="20.4" y1="226.94" x2="22" y2="226.94" class="ax"/>
<text x="18.9" y="229.64" class="tk" text-anchor="end">1000</text>
<line x1="20.4" y1="208.28" x2="22" y2="208.28" class="ax"/>
<text x="18.9" y="210.98" class="tk" text-anchor="end">2000</text>
<line x1="20.4" y1="189.62" x2="22" y2="189.62" class="ax"/>
<text x="18.9" y="192.32" class="tk" text-anchor="end">3000</text>
<line x1="20.4" y1="170.96" x2="22" y2="170.96" class="ax"/>
<text x="18.9" y="173.66" class="tk" text-anchor="end">4000</text>
<line x1="20.4" y1="152.3" x2="22" y2="152.3" class="ax"/>
<text x="18.9" y="155" class="tk" text-anchor="end">5000</text>
<line x1="35.5" y1="250.1" x2="35.5" y2="251.7" class="ax"/>
<text x="35.5" y="256.1" class="tk" text-anchor="middle">1:80</text>
<line x1="57.02" y1="250.1" x2="57.02" y2="251.7" class="ax"/>
<text x="57.02" y="256.1" class="tk" text-anchor="middle">1:160</text>
<line x1="78.54" y1="250.1" x2="78.54" y2="251.7" class="ax"/>
<text x="78.54" y="256.1" class="tk" text-anchor="middle">1:320</text>
<line x1="100.06" y1="250.1" x2="100.06" y2="251.7" class="ax"/>
<text x="100.06" y="256.1" class="tk" text-anchor="middle">1:640</text>
<line x1="121.58" y1="250.1" x2="121.58" y2="251.7" class="ax"/>
<text x="121.58" y="256.1" class="tk" text-anchor="middle">1:1280</text>
<line x1="143.1" y1="250.1" x2="143.1" y2="251.7" class="ax"/>
<text x="143.1" y="256.1" class="tk" text-anchor="middle">1:2560</text>
<line x1="164.62" y1="250.1" x2="164.62" y2="251.7" class="ax"/>
<text x="164.62" y="256.1" class="tk" text-anchor="middle">1:≥5120</text>
<text x="99.55" y="262.6" class="axt" text-anchor="middle">estimated EPT</text>
<g stroke="#0a3c5f" stroke-width="0.7" fill="none" stroke-opacity="0.6">
<line x1="78.54" y1="241.08" x2="78.54" y2="241.49"/>
<line x1="78.54" y1="242.24" x2="78.54" y2="242.73"/>
<rect x="70.79" y="241.49" width="15.49" height="0.75"/>
<line x1="70.79" y1="241.87" x2="86.29" y2="241.87" stroke-width="1.9"/>
</g>
<g fill="#0a3c5f">
<circle cx="78.8" cy="241.85" r="1.0"/>
<circle cx="78.51" cy="242.41" r="1.0"/>
<circle cx="73.74" cy="241.11" r="1.0"/>
<circle cx="79.48" cy="242.41" r="1.0"/>
<circle cx="81.97" cy="242.47" r="1.0"/>
<circle cx="77.68" cy="241.72" r="1.0"/>
<circle cx="77.93" cy="241.68" r="1.0"/>
</g>
<g stroke="#fda006" stroke-width="0.7" fill="none" stroke-opacity="0.6">
<line x1="100.06" y1="237.22" x2="100.06" y2="237.76"/>
<line x1="100.06" y1="239.44" x2="100.06" y2="240.23"/>
<rect x="92.31" y="237.76" width="15.49" height="1.68"/>
<line x1="92.31" y1="238.51" x2="107.81" y2="238.51" stroke-width="1.9"/>
</g>
<g fill="#fda006">
<circle cx="103.34" cy="240" r="1.0"/>
<circle cx="101.78" cy="238.43" r="1.0"/>
<circle cx="95.41" cy="238.58" r="1.0"/>
<circle cx="101.88" cy="239.77" r="1.0"/>
<circle cx="102.79" cy="239.22" r="1.0"/>
<circle cx="95.78" cy="237.86" r="1.0"/>
<circle cx="103.27" cy="237.92" r="1.0"/>
<circle cx="102.62" cy="238.08" r="1.0"/>
<circle cx="100.71" cy="238.19" r="1.0"/>
<circle cx="102.19" cy="237.87" r="1.0"/>
<circle cx="101.99" cy="238.92" r="1.0"/>
<circle cx="99.23" cy="238.46" r="1.0"/>
<circle cx="96.47" cy="237.48" r="1.0"/>
<circle cx="95.06" cy="239.27" r="1.0"/>
</g>
<g stroke="#ffaf18" stroke-width="0.7" fill="none" stroke-opacity="0.6">
<line x1="121.58" y1="231.44" x2="121.58" y2="232.72"/>
<line x1="121.58" y1="235.15" x2="121.58" y2="236.23"/>
<rect x="113.83" y="232.72" width="15.49" height="2.43"/>
<line x1="113.83" y1="234.03" x2="129.33" y2="234.03" stroke-width="1.9"/>
</g>
<g fill="#ffaf18">
<circle cx="126.52" cy="232.16" r="1.0"/>
<circle cx="119.69" cy="234.25" r="1.0"/>
<circle cx="119.1" cy="232.65" r="1.0"/>
<circle cx="121.69" cy="232.58" r="1.0"/>
<circle cx="120.77" cy="235.8" r="1.0"/>
<circle cx="125.29" cy="232.58" r="1.0"/>
<circle cx="124.63" cy="233.55" r="1.0"/>
<circle cx="118.57" cy="233.17" r="1.0"/>
<circle cx="117.05" cy="235.12" r="1.0"/>
<circle cx="121.22" cy="235.72" r="1.0"/>
<circle cx="121.47" cy="234.43" r="1.0"/>
</g>
<g stroke="#ffc93a" stroke-width="0.7" fill="none" stroke-opacity="0.6">
<line x1="143.1" y1="225.82" x2="143.1" y2="227.13"/>
<line x1="143.1" y1="229.55" x2="143.1" y2="230.75"/>
<rect x="135.35" y="227.13" width="15.49" height="2.43"/>
<line x1="135.35" y1="228.43" x2="150.85" y2="228.43" stroke-width="1.9"/>
</g>
<g fill="#ffc93a">
<circle cx="146.15" cy="229.92" r="1.0"/>
<circle cx="140.07" cy="229.29" r="1.0"/>
<circle cx="138.56" cy="226.43" r="1.0"/>
<circle cx="141.22" cy="229.54" r="1.0"/>
<circle cx="143.76" cy="230.24" r="1.0"/>
<circle cx="141.32" cy="228.81" r="1.0"/>
<circle cx="140.99" cy="228.91" r="1.0"/>
<circle cx="144.03" cy="229.23" r="1.0"/>
<circle cx="142.54" cy="227.25" r="1.0"/>
</g>
<g stroke="#94451c" stroke-width="0.7" fill="none" stroke-opacity="0.6">
<line x1="164.62" y1="152.49" x2="164.62" y2="171.89"/>
<line x1="164.62" y1="202.91" x2="164.62" y2="223.79"/>
<rect x="156.87" y="171.89" width="15.49" height="31.01"/>
<line x1="156.87" y1="186" x2="172.37" y2="186" stroke-width="1.9"/>
</g>
<g fill="#94451c">
<circle cx="160.55" cy="167.11" r="1.0"/>
<circle cx="165.9" cy="190.48" r="1.0"/>
<circle cx="167.96" cy="219.7" r="1.0"/>
<circle cx="165.51" cy="217.78" r="1.0"/>
<circle cx="168.51" cy="208.74" r="1.0"/>
<circle cx="167.39" cy="182.55" r="1.0"/>
<circle cx="166.22" cy="186.12" r="1.0"/>
<circle cx="162.73" cy="176.13" r="1.0"/>
<circle cx="167.73" cy="206.16" r="1.0"/>
<circle cx="168.46" cy="211.61" r="1.0"/>
<circle cx="160.95" cy="206.51" r="1.0"/>
<circle cx="167.24" cy="215.83" r="1.0"/>
<circle cx="163.84" cy="164.4" r="1.0"/>
<circle cx="162.39" cy="177.03" r="1.0"/>
<circle cx="166.33" cy="166.08" r="1.0"/>
<circle cx="160.54" cy="210.85" r="1.0"/>
<circle cx="160.4" cy="174.96" r="1.0"/>
<circle cx="162.72" cy="168.68" r="1.0"/>
<circle cx="165.37" cy="204.35" r="1.0"/>
<circle cx="165.18" cy="198.26" r="1.0"/>
<circle cx="168.41" cy="210.92" r="1.0"/>
<circle cx="167.76" cy="197.88" r="1.0"/>
<circle cx="167.37" cy="211.1" r="1.0"/>
<circle cx="163.62" cy="163.31" r="1.0"/>
<circle cx="163.52" cy="221.04" r="1.0"/>
<circle cx="162.07" cy="178.06" r="1.0"/>
<circle cx="160.88" cy="183.42" r="1.0"/>
<circle cx="166.72" cy="188.4" r="1.0"/>
<circle cx="166.27" cy="190.74" r="1.0"/>
<circle cx="167.64" cy="214.23" r="1.0"/>
<circle cx="168.51" cy="213.59" r="1.0"/>
<circle cx="168.66" cy="162.71" r="1.0"/>
<circle cx="162.69" cy="184.51" r="1.0"/>
<circle cx="166.92" cy="196.28" r="1.0"/>
<circle cx="168.57" cy="186.23" r="1.0"/>
<circle cx="164.48" cy="216.02" r="1.0"/>
<circle cx="165.52" cy="167.64" r="1.0"/>
<circle cx="160.83" cy="183.7" r="1.0"/>
<circle cx="162.51" cy="212.12" r="1.0"/>
<circle cx="167.8" cy="166.55" r="1.0"/>
<circle cx="168.53" cy="204.81" r="1.0"/>
<circle cx="165.53" cy="221.08" r="1.0"/>
<circle cx="163.19" cy="163.78" r="1.0"/>
<circle cx="166.06" cy="164.64" r="1.0"/>
<circle cx="163.08" cy="219.61" r="1.0"/>
<circle cx="162.3" cy="189.41" r="1.0"/>
<circle cx="161.67" cy="172.32" r="1.0"/>
<circle cx="162.76" cy="170.49" r="1.0"/>
<circle cx="165.16" cy="217.99" r="1.0"/>
<circle cx="165.09" cy="215.8" r="1.0"/>
<circle cx="165.5" cy="170.48" r="1.0"/>
<circle cx="160.33" cy="188.61" r="1.0"/>
<circle cx="160.91" cy="185.25" r="1.0"/>
<circle cx="161.23" cy="177.72" r="1.0"/>
<circle cx="163.27" cy="181.6" r="1.0"/>
<circle cx="166.12" cy="194.47" r="1.0"/>
<circle cx="161.58" cy="210.1" r="1.0"/>
<circle cx="163.07" cy="164.74" r="1.0"/>
<circle cx="168.06" cy="168.45" r="1.0"/>
<circle cx="161.39" cy="187.34" r="1.0"/>
<circle cx="168.11" cy="215.93" r="1.0"/>
<circle cx="164.58" cy="214.01" r="1.0"/>
<circle cx="161.1" cy="183.97" r="1.0"/>
<circle cx="161.53" cy="188.18" r="1.0"/>
<circle cx="164.68" cy="184" r="1.0"/>
<circle cx="161.84" cy="195" r="1.0"/>
<circle cx="161.89" cy="192.51" r="1.0"/>
<circle cx="162.23" cy="213.17" r="1.0"/>
<circle cx="164.64" cy="167.36" r="1.0"/>
<circle cx="160.16" cy="166.65" r="1.0"/>
<circle cx="164.51" cy="164.68" r="1.0"/>
<circle cx="165.27" cy="170.36" r="1.0"/>
<circle cx="162.13" cy="175.34" r="1.0"/>
<circle cx="161.43" cy="171.89" r="1.0"/>
<circle cx="160.3" cy="201.95" r="1.0"/>
<circle cx="164.79" cy="193.22" r="1.0"/>
<circle cx="168.21" cy="200.07" r="1.0"/>
<circle cx="165.34" cy="216.74" r="1.0"/>
<circle cx="165.5" cy="204.25" r="1.0"/>
<circle cx="166.56" cy="170.62" r="1.0"/>
<circle cx="162.28" cy="218.6" r="1.0"/>
<circle cx="169.06" cy="180.4" r="1.0"/>
<circle cx="165.71" cy="220.34" r="1.0"/>
<circle cx="167.51" cy="175.17" r="1.0"/>
<circle cx="167.48" cy="196.68" r="1.0"/>
<circle cx="168.49" cy="188.58" r="1.0"/>
<circle cx="168.67" cy="222.89" r="1.0"/>
<circle cx="163.77" cy="191.95" r="1.0"/>
<circle cx="161.02" cy="152.49" r="1.0"/>
<circle cx="168.42" cy="153.05" r="1.0"/>
</g>
<path d="M22 147.6 V250.1 H177.1" class="ax" fill="none"/>
<rect x="111.9" y="239.8" width="3.6" height="3.6" fill="#a9e3f5" opacity="0.6"/>
<circle cx="113.7" cy="241.6" r="0.7" fill="#62d8f0" opacity="0.6"/>
<text x="118.1" y="242.5" class="lg">1:80</text>
<rect x="111.9" y="244.6" width="3.6" height="3.6" fill="#6f9fc0" opacity="0.6"/>
<circle cx="113.7" cy="246.4" r="0.7" fill="#0b5580" opacity="0.6"/>
<text x="118.1" y="247.3" class="lg">1:160</text>
<rect x="126.9" y="239.8" width="3.6" height="3.6" fill="#6f94ad" opacity="0.6"/>
<circle cx="128.7" cy="241.6" r="0.7" fill="#0a3c5f" opacity="0.6"/>
<text x="133.1" y="242.5" class="lg">1:320</text>
<rect x="126.9" y="244.6" width="3.6" height="3.6" fill="#fbc472" opacity="0.6"/>
<circle cx="128.7" cy="246.4" r="0.7" fill="#fda006" opacity="0.6"/>
<text x="133.1" y="247.3" class="lg">1:640</text>
<rect x="142.1" y="239.8" width="3.6" height="3.6" fill="#fbcb7a" opacity="0.6"/>
<circle cx="143.9" cy="241.6" r="0.7" fill="#ffaf18" opacity="0.6"/>
<text x="148.3" y="242.5" class="lg">1:1280</text>
<rect x="142.1" y="244.6" width="3.6" height="3.6" fill="#fcd68a" opacity="0.6"/>
<circle cx="143.9" cy="246.4" r="0.7" fill="#ffc93a" opacity="0.6"/>
<text x="148.3" y="247.3" class="lg">1:2560</text>
<rect x="158.6" y="239.8" width="3.6" height="3.6" fill="#b98870" opacity="0.6"/>
<circle cx="160.4" cy="241.6" r="0.7" fill="#94451c" opacity="0.6"/>
<text x="164.8" y="242.5" class="lg">1:≥5120</text>
<text x="189.2" y="138.9" class="ttl" textLength="83.3" lengthAdjust="spacingAndGlyphs">(D) Nucleolar pattern (n = 68)</text>
<text class="axt" transform="translate(189.8,195.5) rotate(-90)" text-anchor="middle">Light intensity unit</text>
<line x1="203.9" y1="244.1" x2="205.5" y2="244.1" class="ax"/>
<text x="202.4" y="246.8" class="tk" text-anchor="end">0</text>
<line x1="203.9" y1="224.74" x2="205.5" y2="224.74" class="ax"/>
<text x="202.4" y="227.44" class="tk" text-anchor="end">1000</text>
<line x1="203.9" y1="205.38" x2="205.5" y2="205.38" class="ax"/>
<text x="202.4" y="208.08" class="tk" text-anchor="end">2000</text>
<line x1="203.9" y1="186.02" x2="205.5" y2="186.02" class="ax"/>
<text x="202.4" y="188.72" class="tk" text-anchor="end">3000</text>
<line x1="203.9" y1="166.66" x2="205.5" y2="166.66" class="ax"/>
<text x="202.4" y="169.36" class="tk" text-anchor="end">4000</text>
<line x1="203.9" y1="147.3" x2="205.5" y2="147.3" class="ax"/>
<text x="202.4" y="150" class="tk" text-anchor="end">5000</text>
<line x1="218.7" y1="249.1" x2="218.7" y2="250.7" class="ax"/>
<text x="218.7" y="255.1" class="tk" text-anchor="middle">1:80</text>
<line x1="241" y1="249.1" x2="241" y2="250.7" class="ax"/>
<text x="241" y="255.1" class="tk" text-anchor="middle">1:160</text>
<line x1="263.3" y1="249.1" x2="263.3" y2="250.7" class="ax"/>
<text x="263.3" y="255.1" class="tk" text-anchor="middle">1:320</text>
<line x1="285.6" y1="249.1" x2="285.6" y2="250.7" class="ax"/>
<text x="285.6" y="255.1" class="tk" text-anchor="middle">1:640</text>
<line x1="307.9" y1="249.1" x2="307.9" y2="250.7" class="ax"/>
<text x="307.9" y="255.1" class="tk" text-anchor="middle">1:1280</text>
<line x1="330.2" y1="249.1" x2="330.2" y2="250.7" class="ax"/>
<text x="330.2" y="255.1" class="tk" text-anchor="middle">1:2560</text>
<line x1="352.5" y1="249.1" x2="352.5" y2="250.7" class="ax"/>
<text x="352.5" y="255.1" class="tk" text-anchor="middle">1:≥5120</text>
<text x="285.55" y="261.6" class="axt" text-anchor="middle">estimated EPT</text>
<g stroke="#62d8f0" stroke-width="0.7" fill="none" stroke-opacity="0.6">
<line x1="218.7" y1="242.51" x2="218.7" y2="242.51"/>
<line x1="218.7" y1="242.51" x2="218.7" y2="242.51"/>
<rect x="210.67" y="242.51" width="16.06" height="0.01"/>
<line x1="210.67" y1="242.51" x2="226.73" y2="242.51" stroke-width="1.9"/>
</g>
<g fill="#62d8f0">
<circle cx="218.7" cy="242.51" r="1.0"/>
</g>
<g stroke="#0b5580" stroke-width="0.7" fill="none" stroke-opacity="0.6">
<line x1="241" y1="239.94" x2="241" y2="240.62"/>
<line x1="241" y1="241.39" x2="241" y2="241.64"/>
<rect x="232.97" y="240.62" width="16.06" height="0.77"/>
<line x1="232.97" y1="241" x2="249.03" y2="241" stroke-width="1.9"/>
</g>
<g fill="#0b5580">
<circle cx="237.34" cy="240.73" r="1.0"/>
<circle cx="237.23" cy="241.24" r="1.0"/>
<circle cx="238.06" cy="241.44" r="1.0"/>
<circle cx="245.99" cy="241.26" r="1.0"/>
<circle cx="244.06" cy="239.94" r="1.0"/>
<circle cx="240.97" cy="241.03" r="1.0"/>
<circle cx="245.28" cy="240.54" r="1.0"/>
<circle cx="242.43" cy="240.61" r="1.0"/>
</g>
<g stroke="#0a3c5f" stroke-width="0.7" fill="none" stroke-opacity="0.6">
<line x1="263.3" y1="236.18" x2="263.3" y2="237.32"/>
<line x1="263.3" y1="238.87" x2="263.3" y2="239.78"/>
<rect x="255.27" y="237.32" width="16.06" height="1.55"/>
<line x1="255.27" y1="238.1" x2="271.33" y2="238.1" stroke-width="1.9"/>
</g>
<g fill="#0a3c5f">
<circle cx="264.61" cy="239.06" r="1.0"/>
<circle cx="266.3" cy="236.89" r="1.0"/>
<circle cx="265.58" cy="239.45" r="1.0"/>
<circle cx="259.76" cy="238.57" r="1.0"/>
<circle cx="265.11" cy="236.34" r="1.0"/>
<circle cx="259.47" cy="237.34" r="1.0"/>
<circle cx="267.88" cy="236.97" r="1.0"/>
<circle cx="265.87" cy="236.62" r="1.0"/>
<circle cx="266.47" cy="236.95" r="1.0"/>
<circle cx="262.62" cy="237.82" r="1.0"/>
<circle cx="266.28" cy="236.98" r="1.0"/>
<circle cx="261.19" cy="236.77" r="1.0"/>
<circle cx="263.63" cy="236.36" r="1.0"/>
<circle cx="259.27" cy="236.43" r="1.0"/>
<circle cx="266.31" cy="236.33" r="1.0"/>
<circle cx="266.85" cy="238.87" r="1.0"/>
<circle cx="260.13" cy="238.94" r="1.0"/>
<circle cx="260.54" cy="238.23" r="1.0"/>
<circle cx="267.58" cy="238.12" r="1.0"/>
<circle cx="265.51" cy="237.52" r="1.0"/>
<circle cx="266.27" cy="238.43" r="1.0"/>
<circle cx="265.22" cy="237.12" r="1.0"/>
</g>
<g stroke="#fda006" stroke-width="0.7" fill="none" stroke-opacity="0.6">
<line x1="285.6" y1="230.66" x2="285.6" y2="232.48"/>
<line x1="285.6" y1="234.42" x2="285.6" y2="235.37"/>
<rect x="277.57" y="232.48" width="16.06" height="1.94"/>
<line x1="277.57" y1="233.65" x2="293.63" y2="233.65" stroke-width="1.9"/>
</g>
<g fill="#fda006">
<circle cx="289.01" cy="231.09" r="1.0"/>
<circle cx="281.27" cy="233.94" r="1.0"/>
<circle cx="289.12" cy="232.94" r="1.0"/>
<circle cx="286.59" cy="234.14" r="1.0"/>
<circle cx="288.67" cy="231.86" r="1.0"/>
<circle cx="285.49" cy="235.35" r="1.0"/>
<circle cx="281.52" cy="235.31" r="1.0"/>
</g>
<g stroke="#ffaf18" stroke-width="0.7" fill="none" stroke-opacity="0.6">
<line x1="307.9" y1="221.1" x2="307.9" y2="223.58"/>
<line x1="307.9" y1="227.64" x2="307.9" y2="229.15"/>
<rect x="299.87" y="223.58" width="16.06" height="4.07"/>
<line x1="299.87" y1="225.71" x2="315.93" y2="225.71" stroke-width="1.9"/>
</g>
<g fill="#ffaf18">
<circle cx="307.05" cy="222.96" r="1.0"/>
<circle cx="307.45" cy="224.82" r="1.0"/>
<circle cx="304.9" cy="226.98" r="1.0"/>
<circle cx="311.51" cy="226.84" r="1.0"/>
<circle cx="305.72" cy="224.69" r="1.0"/>
<circle cx="305.5" cy="228.62" r="1.0"/>
<circle cx="307.29" cy="223.99" r="1.0"/>
</g>
<g stroke="#ffc93a" stroke-width="0.7" fill="none" stroke-opacity="0.6">
<line x1="330.2" y1="213.22" x2="330.2" y2="215.06"/>
<line x1="330.2" y1="218.93" x2="330.2" y2="220.29"/>
<rect x="322.17" y="215.06" width="16.06" height="3.87"/>
<line x1="322.17" y1="217" x2="338.23" y2="217" stroke-width="1.9"/>
</g>
<g fill="#ffc93a">
<circle cx="333.42" cy="215.75" r="1.0"/>
<circle cx="332.12" cy="219.63" r="1.0"/>
<circle cx="333.58" cy="220.06" r="1.0"/>
<circle cx="327.8" cy="219.29" r="1.0"/>
<circle cx="328.76" cy="213.53" r="1.0"/>
</g>
<g stroke="#94451c" stroke-width="0.7" fill="none" stroke-opacity="0.6">
<line x1="352.5" y1="204.41" x2="352.5" y2="206"/>
<line x1="352.5" y1="209.5" x2="352.5" y2="211.46"/>
<rect x="344.47" y="206" width="16.06" height="3.5"/>
<line x1="344.47" y1="207.7" x2="360.53" y2="207.7" stroke-width="1.9"/>
</g>
<g fill="#94451c">
<circle cx="356.59" cy="209.71" r="1.0"/>
<circle cx="356.63" cy="206.95" r="1.0"/>
<circle cx="352.5" cy="208.46" r="1.0"/>
<circle cx="352.57" cy="204.69" r="1.0"/>
<circle cx="349.25" cy="204.48" r="1.0"/>
<circle cx="348.96" cy="205.49" r="1.0"/>
<circle cx="351.9" cy="157.7" r="1.0"/>
</g>
<path d="M205.5 142.8 V249.1 H365.6" class="ax" fill="none"/>
<rect x="298" y="237.2" width="3.6" height="3.6" fill="#a9e3f5" opacity="0.6"/>
<circle cx="299.8" cy="239" r="0.7" fill="#62d8f0" opacity="0.6"/>
<text x="304.2" y="239.9" class="lg">1:80</text>
<rect x="298" y="242.3" width="3.6" height="3.6" fill="#6f9fc0" opacity="0.6"/>
<circle cx="299.8" cy="244.1" r="0.7" fill="#0b5580" opacity="0.6"/>
<text x="304.2" y="245" class="lg">1:160</text>
<rect x="313.2" y="237.2" width="3.6" height="3.6" fill="#6f94ad" opacity="0.6"/>
<circle cx="315" cy="239" r="0.7" fill="#0a3c5f" opacity="0.6"/>
<text x="319.4" y="239.9" class="lg">1:320</text>
<rect x="313.2" y="242.3" width="3.6" height="3.6" fill="#fbc472" opacity="0.6"/>
<circle cx="315" cy="244.1" r="0.7" fill="#fda006" opacity="0.6"/>
<text x="319.4" y="245" class="lg">1:640</text>
<rect x="328.2" y="237.2" width="3.6" height="3.6" fill="#fbcb7a" opacity="0.6"/>
<circle cx="330" cy="239" r="0.7" fill="#ffaf18" opacity="0.6"/>
<text x="334.4" y="239.9" class="lg">1:1280</text>
<rect x="328.2" y="242.3" width="3.6" height="3.6" fill="#fcd68a" opacity="0.6"/>
<circle cx="330" cy="244.1" r="0.7" fill="#ffc93a" opacity="0.6"/>
<text x="334.4" y="245" class="lg">1:2560</text>
<rect x="345.6" y="237.2" width="3.6" height="3.6" fill="#b98870" opacity="0.6"/>
<circle cx="347.4" cy="239" r="0.7" fill="#94451c" opacity="0.6"/>
<text x="351.8" y="239.9" class="lg">1:≥5120</text>
<text x="372.9" y="140" class="ttl" textLength="88.4" lengthAdjust="spacingAndGlyphs">(E) Nuclear dot pattern (n = 20)</text>
<text class="axt" transform="translate(373.2,198.8) rotate(-90)" text-anchor="middle">Light intensity unit</text>
<line x1="387.6" y1="244.9" x2="389.2" y2="244.9" class="ax"/>
<text x="386.1" y="247.6" class="tk" text-anchor="end">0</text>
<line x1="387.6" y1="226.12" x2="389.2" y2="226.12" class="ax"/>
<text x="386.1" y="228.82" class="tk" text-anchor="end">1000</text>
<line x1="387.6" y1="207.34" x2="389.2" y2="207.34" class="ax"/>
<text x="386.1" y="210.04" class="tk" text-anchor="end">2000</text>
<line x1="387.6" y1="188.56" x2="389.2" y2="188.56" class="ax"/>
<text x="386.1" y="191.26" class="tk" text-anchor="end">3000</text>
<line x1="387.6" y1="169.78" x2="389.2" y2="169.78" class="ax"/>
<text x="386.1" y="172.48" class="tk" text-anchor="end">4000</text>
<line x1="387.6" y1="151" x2="389.2" y2="151" class="ax"/>
<text x="386.1" y="153.7" class="tk" text-anchor="end">5000</text>
<line x1="402.3" y1="249.2" x2="402.3" y2="250.8" class="ax"/>
<text x="402.3" y="255.2" class="tk" text-anchor="middle">1:80</text>
<line x1="423.97" y1="249.2" x2="423.97" y2="250.8" class="ax"/>
<text x="423.97" y="255.2" class="tk" text-anchor="middle">1:160</text>
<line x1="445.64" y1="249.2" x2="445.64" y2="250.8" class="ax"/>
<text x="445.64" y="255.2" class="tk" text-anchor="middle">1:320</text>
<line x1="467.31" y1="249.2" x2="467.31" y2="250.8" class="ax"/>
<text x="467.31" y="255.2" class="tk" text-anchor="middle">1:640</text>
<line x1="488.98" y1="249.2" x2="488.98" y2="250.8" class="ax"/>
<text x="488.98" y="255.2" class="tk" text-anchor="middle">1:1280</text>
<line x1="510.65" y1="249.2" x2="510.65" y2="250.8" class="ax"/>
<text x="510.65" y="255.2" class="tk" text-anchor="middle">1:2560</text>
<line x1="532.32" y1="249.2" x2="532.32" y2="250.8" class="ax"/>
<text x="532.32" y="255.2" class="tk" text-anchor="middle">1:≥5120</text>
<text x="467.4" y="261.7" class="axt" text-anchor="middle">estimated EPT</text>
<g stroke="#62d8f0" stroke-width="0.7" fill="none" stroke-opacity="0.6">
<line x1="402.3" y1="243.72" x2="402.3" y2="243.72"/>
<line x1="402.3" y1="243.72" x2="402.3" y2="243.72"/>
<rect x="394.5" y="243.72" width="15.6" height="0.01"/>
<line x1="394.5" y1="243.72" x2="410.1" y2="243.72" stroke-width="1.9"/>
</g>
<g fill="#62d8f0">
<circle cx="402.3" cy="243.72" r="1.0"/>
</g>
<g stroke="#0b5580" stroke-width="0.7" fill="none" stroke-opacity="0.6">
<line x1="423.97" y1="241.37" x2="423.97" y2="241.37"/>
<line x1="423.97" y1="241.37" x2="423.97" y2="241.37"/>
<rect x="416.17" y="241.37" width="15.6" height="0.01"/>
<line x1="416.17" y1="241.37" x2="431.77" y2="241.37" stroke-width="1.9"/>
</g>
<g fill="#0b5580">
<circle cx="423.97" cy="241.37" r="1.0"/>
</g>
<g stroke="#0a3c5f" stroke-width="0.7" fill="none" stroke-opacity="0.6">
<line x1="445.64" y1="237.46" x2="445.64" y2="237.46"/>
<line x1="445.64" y1="237.46" x2="445.64" y2="237.46"/>
<rect x="437.84" y="237.46" width="15.6" height="0.01"/>
<line x1="437.84" y1="237.46" x2="453.44" y2="237.46" stroke-width="1.9"/>
</g>
<g fill="#0a3c5f">
<circle cx="445.64" cy="237.46" r="1.0"/>
</g>
<g stroke="#fda006" stroke-width="0.7" fill="none" stroke-opacity="0.6">
<line x1="467.31" y1="232.88" x2="467.31" y2="233.37"/>
<line x1="467.31" y1="233.67" x2="467.31" y2="233.82"/>
<rect x="459.51" y="233.37" width="15.6" height="0.3"/>
<line x1="459.51" y1="233.52" x2="475.11" y2="233.52" stroke-width="1.9"/>
</g>
<g fill="#fda006">
<circle cx="464.77" cy="233.25" r="1.0"/>
<circle cx="463.25" cy="233.61" r="1.0"/>
<circle cx="471" cy="233.49" r="1.0"/>
<circle cx="466.05" cy="233.51" r="1.0"/>
</g>
<g stroke="#ffaf18" stroke-width="0.7" fill="none" stroke-opacity="0.6">
<line x1="488.98" y1="225.18" x2="488.98" y2="225.74"/>
<line x1="488.98" y1="226.12" x2="488.98" y2="226.87"/>
<rect x="481.18" y="225.74" width="15.6" height="0.38"/>
<line x1="481.18" y1="225.91" x2="496.78" y2="225.91" stroke-width="1.9"/>
</g>
<g fill="#ffaf18">
<circle cx="492.99" cy="225.34" r="1.0"/>
<circle cx="484.66" cy="225.8" r="1.0"/>
<circle cx="488.41" cy="225.83" r="1.0"/>
<circle cx="487.57" cy="225.28" r="1.0"/>
</g>
<g stroke="#ffc93a" stroke-width="0.7" fill="none" stroke-opacity="0.6">
<line x1="510.65" y1="218.61" x2="510.65" y2="219.73"/>
<line x1="510.65" y1="220.11" x2="510.65" y2="220.67"/>
<rect x="502.85" y="219.73" width="15.6" height="0.38"/>
<line x1="502.85" y1="219.92" x2="518.45" y2="219.92" stroke-width="1.9"/>
</g>
<g fill="#ffc93a">
<circle cx="511.99" cy="219.8" r="1.0"/>
<circle cx="510.88" cy="220.02" r="1.0"/>
<circle cx="514.8" cy="219.79" r="1.0"/>
<circle cx="509.26" cy="219.92" r="1.0"/>
</g>
<g stroke="#94451c" stroke-width="0.7" fill="none" stroke-opacity="0.6">
<line x1="532.32" y1="165.01" x2="532.32" y2="184.39"/>
<line x1="532.32" y1="204.09" x2="532.32" y2="214.7"/>
<rect x="524.52" y="184.39" width="15.6" height="19.7"/>
<line x1="524.52" y1="200.39" x2="540.12" y2="200.39" stroke-width="1.9"/>
</g>
<g fill="#94451c">
<circle cx="536.5" cy="164.7" r="1.0"/>
<circle cx="531" cy="178.2" r="1.0"/>
<circle cx="528.5" cy="184.9" r="1.0"/>
<circle cx="530.5" cy="190" r="1.0"/>
<circle cx="536" cy="200.4" r="1.0"/>
<circle cx="529.3" cy="203.4" r="1.0"/>
<circle cx="533.5" cy="204.6" r="1.0"/>
<circle cx="531.8" cy="215.2" r="1.0"/>
</g>
<path d="M389.2 146.6 V249.2 H545.6" class="ax" fill="none"/>
<rect x="478.2" y="237.1" width="3.6" height="3.6" fill="#a9e3f5" opacity="0.6"/>
<circle cx="480" cy="238.9" r="0.7" fill="#62d8f0" opacity="0.6"/>
<text x="484.4" y="239.8" class="lg">1:80</text>
<rect x="478.2" y="242.4" width="3.6" height="3.6" fill="#6f9fc0" opacity="0.6"/>
<circle cx="480" cy="244.2" r="0.7" fill="#0b5580" opacity="0.6"/>
<text x="484.4" y="245.1" class="lg">1:160</text>
<rect x="493.4" y="237.1" width="3.6" height="3.6" fill="#6f94ad" opacity="0.6"/>
<circle cx="495.2" cy="238.9" r="0.7" fill="#0a3c5f" opacity="0.6"/>
<text x="499.6" y="239.8" class="lg">1:320</text>
<rect x="493.4" y="242.4" width="3.6" height="3.6" fill="#fbc472" opacity="0.6"/>
<circle cx="495.2" cy="244.2" r="0.7" fill="#fda006" opacity="0.6"/>
<text x="499.6" y="245.1" class="lg">1:640</text>
<rect x="509.8" y="237.1" width="3.6" height="3.6" fill="#fbcb7a" opacity="0.6"/>
<circle cx="511.6" cy="238.9" r="0.7" fill="#ffaf18" opacity="0.6"/>
<text x="516" y="239.8" class="lg">1:1280</text>
<rect x="509.8" y="242.4" width="3.6" height="3.6" fill="#fcd68a" opacity="0.6"/>
<circle cx="511.6" cy="244.2" r="0.7" fill="#ffc93a" opacity="0.6"/>
<text x="516" y="245.1" class="lg">1:2560</text>
<rect x="525.7" y="237.1" width="3.6" height="3.6" fill="#b98870" opacity="0.6"/>
<circle cx="527.5" cy="238.9" r="0.7" fill="#94451c" opacity="0.6"/>
<text x="531.9" y="239.8" class="lg">1:≥5120</text>
<text x="7.3" y="276.4" class="ft" textLength="149.6" lengthAdjust="spacingAndGlyphs">(F) Distribution of LIU according to the ANA pattern</text>
<line x1="7" y1="284.6" x2="548.6" y2="284.6" stroke="#555" stroke-width="0.9"/>
<line x1="7" y1="296.0" x2="548.6" y2="296.0" stroke="#555" stroke-width="0.9"/>
<line x1="7" y1="352.2" x2="548.6" y2="352.2" stroke="#555" stroke-width="0.9"/>
<text x="40.8" y="292.6" class="tb" text-anchor="middle">Pattern</text>
<text x="108.4" y="292.6" class="tb" text-anchor="middle">1:80</text>
<text x="176.2" y="292.6" class="tb" text-anchor="middle">1:160</text>
<text x="243.6" y="292.6" class="tb" text-anchor="middle">1:320</text>
<text x="311.0" y="292.6" class="tb" text-anchor="middle">1:640</text>
<text x="378.8" y="292.6" class="tb" text-anchor="middle">1:1280</text>
<text x="446.4" y="292.6" class="tb" text-anchor="middle">1:2560</text>
<text x="513.6" y="292.6" class="tb" text-anchor="middle">1:5120</text>
<text x="40.8" y="303.6" class="tb" text-anchor="middle" xml:space="preserve">Speckled</text>
<text x="108.4" y="303.6" class="tb" text-anchor="middle" xml:space="preserve">42 – 96</text>
<text x="176.2" y="303.6" class="tb" text-anchor="middle" xml:space="preserve">97 – 271</text>
<text x="243.6" y="303.6" class="tb" text-anchor="middle" xml:space="preserve">272 – 672</text>
<text x="311.0" y="303.6" class="tb" text-anchor="middle" xml:space="preserve">683 – 1510</text>
<text x="378.8" y="303.6" class="tb" text-anchor="middle" xml:space="preserve">1511 – 2735</text>
<text x="446.4" y="303.6" class="tb" text-anchor="middle" xml:space="preserve">2759 –</text>
<text x="513.6" y="303.6" class="tb" text-anchor="middle" xml:space="preserve">Not available</text>
<text x="40.8" y="315.1" class="tb" text-anchor="middle" xml:space="preserve">Homogeneous</text>
<text x="108.4" y="315.1" class="tb" text-anchor="middle" xml:space="preserve">51 – 100</text>
<text x="176.2" y="315.1" class="tb" text-anchor="middle" xml:space="preserve">107 – 307</text>
<text x="243.6" y="315.1" class="tb" text-anchor="middle" xml:space="preserve">311 – 767</text>
<text x="311.0" y="315.1" class="tb" text-anchor="middle" xml:space="preserve">769 – 1373</text>
<text x="378.8" y="315.1" class="tb" text-anchor="middle" xml:space="preserve">1393 – 1827</text>
<text x="446.4" y="315.1" class="tb" text-anchor="middle" xml:space="preserve">1868 –</text>
<text x="513.6" y="315.1" class="tb" text-anchor="middle" xml:space="preserve">Not available</text>
<text x="40.8" y="326.7" class="tb" text-anchor="middle" xml:space="preserve">Centromere</text>
<text x="108.4" y="326.7" class="tb" text-anchor="middle" xml:space="preserve">Not available</text>
<text x="176.2" y="326.7" class="tb" text-anchor="middle" xml:space="preserve">Not available</text>
<text x="243.6" y="326.7" class="tb" text-anchor="middle" xml:space="preserve">154 – 242</text>
<text x="311.0" y="326.7" class="tb" text-anchor="middle" xml:space="preserve">288 – 449</text>
<text x="378.8" y="326.7" class="tb" text-anchor="middle" xml:space="preserve">502 – 759</text>
<text x="446.4" y="326.7" class="tb" text-anchor="middle" xml:space="preserve">796 –  1060</text>
<text x="513.6" y="326.7" class="tb" text-anchor="middle" xml:space="preserve">1169 –</text>
<text x="40.8" y="337.7" class="tb" text-anchor="middle" xml:space="preserve">Nucleolar</text>
<text x="108.4" y="337.7" class="tb" text-anchor="middle" xml:space="preserve">82 – 82</text>
<text x="176.2" y="337.7" class="tb" text-anchor="middle" xml:space="preserve">127 – 215</text>
<text x="243.6" y="337.7" class="tb" text-anchor="middle" xml:space="preserve">223 – 409</text>
<text x="311.0" y="337.7" class="tb" text-anchor="middle" xml:space="preserve">451 – 694</text>
<text x="378.8" y="337.7" class="tb" text-anchor="middle" xml:space="preserve">772 – 1188</text>
<text x="446.4" y="337.7" class="tb" text-anchor="middle" xml:space="preserve">1230 – 1595</text>
<text x="513.6" y="337.7" class="tb" text-anchor="middle" xml:space="preserve">1686 –</text>
<text x="40.8" y="348.7" class="tb" text-anchor="middle" xml:space="preserve">Nuclear dot</text>
<text x="108.4" y="348.7" class="tb" text-anchor="middle" xml:space="preserve">63 – 63</text>
<text x="176.2" y="348.7" class="tb" text-anchor="middle" xml:space="preserve">188 – 188</text>
<text x="243.6" y="348.7" class="tb" text-anchor="middle" xml:space="preserve">396 – 396</text>
<text x="311.0" y="348.7" class="tb" text-anchor="middle" xml:space="preserve">546 – 695</text>
<text x="378.8" y="348.7" class="tb" text-anchor="middle" xml:space="preserve">901 – 1105</text>
<text x="446.4" y="348.7" class="tb" text-anchor="middle" xml:space="preserve">1223 – 1566</text>
<text x="513.6" y="348.7" class="tb" text-anchor="middle" xml:space="preserve">2135 –</text>
</svg></body></html>
